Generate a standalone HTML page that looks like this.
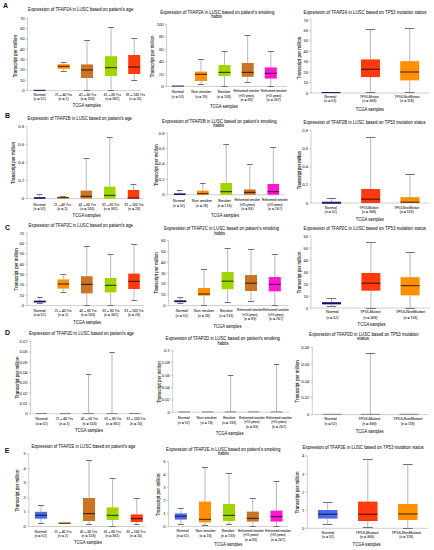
<!DOCTYPE html>
<html><head><meta charset="utf-8"><style>
html,body{margin:0;padding:0;background:#fff;}
svg{display:block;font-family:"Liberation Sans", sans-serif;}
</style></head><body>
<svg width="434" height="550" viewBox="0 0 434 550" xmlns="http://www.w3.org/2000/svg">
<rect width="434" height="550" fill="#fff"/>
<text x="3.0" y="8.1" font-size="7" text-anchor="start" fill="#111" font-weight="bold">A</text>
<text x="5.1" y="117.9" font-size="7" text-anchor="start" fill="#111" font-weight="bold">B</text>
<text x="4.9" y="230" font-size="7" text-anchor="start" fill="#111" font-weight="bold">C</text>
<text x="4.9" y="335.4" font-size="7" text-anchor="start" fill="#111" font-weight="bold">D</text>
<text x="4.7" y="452.7" font-size="7" text-anchor="start" fill="#111" font-weight="bold">E</text>
<text x="28" y="11.4" font-size="4.6" text-anchor="start" fill="#222" font-weight="normal" textLength="105.3" lengthAdjust="spacingAndGlyphs" stroke="#222" stroke-width="0.05">Expression of TFAP2A in LUSC based on patient's age</text>
<line x1="27.5" y1="18.0" x2="27.5" y2="90.6" stroke="#c8c8c8" stroke-width="0.9"/>
<line x1="27.5" y1="90.6" x2="141" y2="90.6" stroke="#c8c8c8" stroke-width="0.9"/>
<line x1="25.9" y1="90.6" x2="27.5" y2="90.6" stroke="#999" stroke-width="0.6"/>
<text x="24.6" y="92.1" font-size="4.2" text-anchor="end" fill="#4a4a4a" font-weight="normal" stroke="#4a4a4a" stroke-width="0.07">0</text>
<line x1="25.9" y1="80.27142857142857" x2="27.5" y2="80.27142857142857" stroke="#999" stroke-width="0.6"/>
<text x="24.6" y="81.77142857142857" font-size="4.2" text-anchor="end" fill="#4a4a4a" font-weight="normal" stroke="#4a4a4a" stroke-width="0.07">10</text>
<line x1="25.9" y1="69.94285714285714" x2="27.5" y2="69.94285714285714" stroke="#999" stroke-width="0.6"/>
<text x="24.6" y="71.44285714285714" font-size="4.2" text-anchor="end" fill="#4a4a4a" font-weight="normal" stroke="#4a4a4a" stroke-width="0.07">20</text>
<line x1="25.9" y1="59.614285714285714" x2="27.5" y2="59.614285714285714" stroke="#999" stroke-width="0.6"/>
<text x="24.6" y="61.114285714285714" font-size="4.2" text-anchor="end" fill="#4a4a4a" font-weight="normal" stroke="#4a4a4a" stroke-width="0.07">30</text>
<line x1="25.9" y1="49.285714285714285" x2="27.5" y2="49.285714285714285" stroke="#999" stroke-width="0.6"/>
<text x="24.6" y="50.785714285714285" font-size="4.2" text-anchor="end" fill="#4a4a4a" font-weight="normal" stroke="#4a4a4a" stroke-width="0.07">40</text>
<line x1="25.9" y1="38.95714285714285" x2="27.5" y2="38.95714285714285" stroke="#999" stroke-width="0.6"/>
<text x="24.6" y="40.45714285714285" font-size="4.2" text-anchor="end" fill="#4a4a4a" font-weight="normal" stroke="#4a4a4a" stroke-width="0.07">50</text>
<line x1="25.9" y1="28.628571428571426" x2="27.5" y2="28.628571428571426" stroke="#999" stroke-width="0.6"/>
<text x="24.6" y="30.128571428571426" font-size="4.2" text-anchor="end" fill="#4a4a4a" font-weight="normal" stroke="#4a4a4a" stroke-width="0.07">60</text>
<line x1="25.9" y1="18.299999999999997" x2="27.5" y2="18.299999999999997" stroke="#999" stroke-width="0.6"/>
<text x="24.6" y="19.799999999999997" font-size="4.2" text-anchor="end" fill="#4a4a4a" font-weight="normal" stroke="#4a4a4a" stroke-width="0.07">70</text>
<text x="0" y="0" font-size="4.6" text-anchor="middle" fill="#222" stroke="#222" stroke-width="0.12" transform="translate(17.2,56.2) rotate(-90)" textLength="42.3" lengthAdjust="spacingAndGlyphs">Transcript per million</text>
<text x="33.46" y="96.24999999999999" font-size="4.125" text-anchor="start" fill="#2e2e2e" font-weight="normal" textLength="12.08" lengthAdjust="spacingAndGlyphs" stroke="#2e2e2e" stroke-width="0.08">Normal</text>
<text x="33.42" y="100.24999999999999" font-size="3.8500000000000005" text-anchor="start" fill="#2e2e2e" font-weight="normal" textLength="12.16" lengthAdjust="spacingAndGlyphs" stroke="#2e2e2e" stroke-width="0.08">(n = 52)</text>
<text x="54.965" y="96.24999999999999" font-size="3.6850000000000005" text-anchor="start" fill="#2e2e2e" font-weight="normal" textLength="17.07" lengthAdjust="spacingAndGlyphs" stroke="#2e2e2e" stroke-width="0.08">21 – 40 Yrs</text>
<text x="58.394999999999996" y="100.24999999999999" font-size="3.8500000000000005" text-anchor="start" fill="#2e2e2e" font-weight="normal" textLength="10.21" lengthAdjust="spacingAndGlyphs" stroke="#2e2e2e" stroke-width="0.08">(n = 2)</text>
<text x="79.065" y="96.24999999999999" font-size="3.6850000000000005" text-anchor="start" fill="#2e2e2e" font-weight="normal" textLength="17.07" lengthAdjust="spacingAndGlyphs" stroke="#2e2e2e" stroke-width="0.08">41 – 60 Yrs</text>
<text x="80.54499999999999" y="100.24999999999999" font-size="3.8500000000000005" text-anchor="start" fill="#2e2e2e" font-weight="normal" textLength="14.11" lengthAdjust="spacingAndGlyphs" stroke="#2e2e2e" stroke-width="0.08">(n = 103)</text>
<text x="103.765" y="96.24999999999999" font-size="3.6850000000000005" text-anchor="start" fill="#2e2e2e" font-weight="normal" textLength="17.07" lengthAdjust="spacingAndGlyphs" stroke="#2e2e2e" stroke-width="0.08">61 – 80 Yrs</text>
<text x="105.245" y="100.24999999999999" font-size="3.8500000000000005" text-anchor="start" fill="#2e2e2e" font-weight="normal" textLength="14.11" lengthAdjust="spacingAndGlyphs" stroke="#2e2e2e" stroke-width="0.08">(n = 361)</text>
<text x="125.935" y="96.24999999999999" font-size="3.6850000000000005" text-anchor="start" fill="#2e2e2e" font-weight="normal" textLength="18.93" lengthAdjust="spacingAndGlyphs" stroke="#2e2e2e" stroke-width="0.08">81 – 100 Yrs</text>
<text x="129.32" y="100.24999999999999" font-size="3.8500000000000005" text-anchor="start" fill="#2e2e2e" font-weight="normal" textLength="12.16" lengthAdjust="spacingAndGlyphs" stroke="#2e2e2e" stroke-width="0.08">(n = 20)</text>
<text x="72.8" y="107.10000000000001" font-size="4.6" text-anchor="start" fill="#222" font-weight="normal" textLength="28" lengthAdjust="spacingAndGlyphs" stroke="#222" stroke-width="0.05">TCGA samples</text>
<rect x="33.60" y="89.80" width="12.00" height="1.10" fill="#1c2070"/>
<line x1="63.7" y1="62" x2="63.7" y2="64.2" stroke="#b8b8b8" stroke-width="1.0"/>
<line x1="60.7" y1="62.5" x2="66.7" y2="62.5" stroke="#6a6a6a" stroke-width="0.95"/>
<line x1="63.7" y1="68.9" x2="63.7" y2="71.4" stroke="#b8b8b8" stroke-width="1.0"/>
<line x1="60.7" y1="71.5" x2="66.7" y2="71.5" stroke="#6a6a6a" stroke-width="0.95"/>
<rect x="57.70" y="64.20" width="12.00" height="4.70" fill="#ff9005"/>
<line x1="57.7" y1="66.4" x2="69.7" y2="66.4" stroke="rgba(0,0,0,0.66)" stroke-width="1.2"/>
<line x1="87" y1="40.4" x2="87" y2="64.4" stroke="#b8b8b8" stroke-width="1.0"/>
<line x1="84.0" y1="40.5" x2="90.0" y2="40.5" stroke="#6a6a6a" stroke-width="0.95"/>
<line x1="87" y1="78" x2="87" y2="90.6" stroke="#b8b8b8" stroke-width="1.0"/>
<line x1="84.0" y1="90.5" x2="90.0" y2="90.5" stroke="#6a6a6a" stroke-width="0.95"/>
<rect x="81.00" y="64.40" width="12.00" height="13.60" fill="#cc7426"/>
<line x1="81.0" y1="70" x2="93.0" y2="70" stroke="rgba(0,0,0,0.66)" stroke-width="1.2"/>
<line x1="111" y1="27.3" x2="111" y2="56.2" stroke="#b8b8b8" stroke-width="1.0"/>
<line x1="108.0" y1="27.5" x2="114.0" y2="27.5" stroke="#6a6a6a" stroke-width="0.95"/>
<line x1="111" y1="76" x2="111" y2="90.6" stroke="#b8b8b8" stroke-width="1.0"/>
<line x1="108.0" y1="90.5" x2="114.0" y2="90.5" stroke="#6a6a6a" stroke-width="0.95"/>
<rect x="105.00" y="56.20" width="12.00" height="19.80" fill="#a0d500"/>
<line x1="105.0" y1="67.6" x2="117.0" y2="67.6" stroke="rgba(0,0,0,0.66)" stroke-width="1.2"/>
<line x1="134.2" y1="38" x2="134.2" y2="55" stroke="#b8b8b8" stroke-width="1.0"/>
<line x1="131.2" y1="38.5" x2="137.2" y2="38.5" stroke="#6a6a6a" stroke-width="0.95"/>
<line x1="134.2" y1="74" x2="134.2" y2="80.4" stroke="#b8b8b8" stroke-width="1.0"/>
<line x1="131.2" y1="80.5" x2="137.2" y2="80.5" stroke="#6a6a6a" stroke-width="0.95"/>
<rect x="128.20" y="55.00" width="12.00" height="19.00" fill="#ff3a0e"/>
<line x1="128.2" y1="67" x2="140.2" y2="67" stroke="rgba(0,0,0,0.66)" stroke-width="1.2"/>
<text x="160.2" y="13.7" font-size="4.6" text-anchor="start" fill="#222" font-weight="normal" textLength="114.2" lengthAdjust="spacingAndGlyphs" stroke="#222" stroke-width="0.05">Expression of TFAP2A in LUSC based on patient's smoking</text>
<text x="211.2" y="18.4" font-size="4.6" text-anchor="start" fill="#222" font-weight="normal" textLength="10.8" lengthAdjust="spacingAndGlyphs" stroke="#222" stroke-width="0.05">habits</text>
<line x1="166.6" y1="24.3" x2="166.6" y2="86.4" stroke="#c8c8c8" stroke-width="0.9"/>
<line x1="166.6" y1="86.4" x2="287" y2="86.4" stroke="#c8c8c8" stroke-width="0.9"/>
<line x1="165.0" y1="86.4" x2="166.6" y2="86.4" stroke="#999" stroke-width="0.6"/>
<text x="163.7" y="87.9" font-size="4.2" text-anchor="end" fill="#4a4a4a" font-weight="normal" stroke="#4a4a4a" stroke-width="0.07">0</text>
<line x1="165.0" y1="74.04" x2="166.6" y2="74.04" stroke="#999" stroke-width="0.6"/>
<text x="163.7" y="75.54" font-size="4.2" text-anchor="end" fill="#4a4a4a" font-weight="normal" stroke="#4a4a4a" stroke-width="0.07">20</text>
<line x1="165.0" y1="61.68000000000001" x2="166.6" y2="61.68000000000001" stroke="#999" stroke-width="0.6"/>
<text x="163.7" y="63.18000000000001" font-size="4.2" text-anchor="end" fill="#4a4a4a" font-weight="normal" stroke="#4a4a4a" stroke-width="0.07">40</text>
<line x1="165.0" y1="49.32000000000001" x2="166.6" y2="49.32000000000001" stroke="#999" stroke-width="0.6"/>
<text x="163.7" y="50.82000000000001" font-size="4.2" text-anchor="end" fill="#4a4a4a" font-weight="normal" stroke="#4a4a4a" stroke-width="0.07">60</text>
<line x1="165.0" y1="36.96" x2="166.6" y2="36.96" stroke="#999" stroke-width="0.6"/>
<text x="163.7" y="38.46" font-size="4.2" text-anchor="end" fill="#4a4a4a" font-weight="normal" stroke="#4a4a4a" stroke-width="0.07">80</text>
<line x1="165.0" y1="24.60000000000001" x2="166.6" y2="24.60000000000001" stroke="#999" stroke-width="0.6"/>
<text x="163.7" y="26.10000000000001" font-size="4.2" text-anchor="end" fill="#4a4a4a" font-weight="normal" stroke="#4a4a4a" stroke-width="0.07">100</text>
<text x="0" y="0" font-size="4.6" text-anchor="middle" fill="#222" stroke="#222" stroke-width="0.12" transform="translate(154.4,56.3) rotate(-90)" textLength="41.7" lengthAdjust="spacingAndGlyphs">Transcript per million</text>
<text x="171.66" y="92.74999999999999" font-size="4.125" text-anchor="start" fill="#2e2e2e" font-weight="normal" textLength="12.08" lengthAdjust="spacingAndGlyphs" stroke="#2e2e2e" stroke-width="0.08">Normal</text>
<text x="171.61999999999998" y="97.64999999999999" font-size="3.8500000000000005" text-anchor="start" fill="#2e2e2e" font-weight="normal" textLength="12.16" lengthAdjust="spacingAndGlyphs" stroke="#2e2e2e" stroke-width="0.08">(n = 52)</text>
<text x="191.19500000000002" y="92.74999999999999" font-size="4.125" text-anchor="start" fill="#2e2e2e" font-weight="normal" textLength="20.21" lengthAdjust="spacingAndGlyphs" stroke="#2e2e2e" stroke-width="0.08">Non smoker</text>
<text x="195.22" y="97.64999999999999" font-size="3.8500000000000005" text-anchor="start" fill="#2e2e2e" font-weight="normal" textLength="12.16" lengthAdjust="spacingAndGlyphs" stroke="#2e2e2e" stroke-width="0.08">(n = 18)</text>
<text x="217.44" y="92.74999999999999" font-size="4.125" text-anchor="start" fill="#2e2e2e" font-weight="normal" textLength="12.92" lengthAdjust="spacingAndGlyphs" stroke="#2e2e2e" stroke-width="0.08">Smoker</text>
<text x="216.845" y="97.64999999999999" font-size="3.8500000000000005" text-anchor="start" fill="#2e2e2e" font-weight="normal" textLength="14.11" lengthAdjust="spacingAndGlyphs" stroke="#2e2e2e" stroke-width="0.08">(n = 133)</text>
<text x="233.585" y="92.35" font-size="3.575" text-anchor="start" fill="#2e2e2e" font-weight="normal" textLength="25.83" lengthAdjust="spacingAndGlyphs" stroke="#2e2e2e" stroke-width="0.08">Reformed smoker</text>
<text x="238.87" y="96.64999999999999" font-size="3.3000000000000003" text-anchor="start" fill="#2e2e2e" font-weight="normal" textLength="15.26" lengthAdjust="spacingAndGlyphs" stroke="#2e2e2e" stroke-width="0.08">(&lt;15 years)</text>
<text x="240.42" y="101.14999999999999" font-size="3.8500000000000005" text-anchor="start" fill="#2e2e2e" font-weight="normal" textLength="12.16" lengthAdjust="spacingAndGlyphs" stroke="#2e2e2e" stroke-width="0.08">(n = 83)</text>
<text x="260.78499999999997" y="92.35" font-size="3.575" text-anchor="start" fill="#2e2e2e" font-weight="normal" textLength="25.83" lengthAdjust="spacingAndGlyphs" stroke="#2e2e2e" stroke-width="0.08">Reformed smoker</text>
<text x="266.07" y="96.64999999999999" font-size="3.3000000000000003" text-anchor="start" fill="#2e2e2e" font-weight="normal" textLength="15.26" lengthAdjust="spacingAndGlyphs" stroke="#2e2e2e" stroke-width="0.08">(&gt;15 years)</text>
<text x="266.645" y="101.14999999999999" font-size="3.8500000000000005" text-anchor="start" fill="#2e2e2e" font-weight="normal" textLength="14.11" lengthAdjust="spacingAndGlyphs" stroke="#2e2e2e" stroke-width="0.08">(n = 267)</text>
<text x="209.9" y="108.10000000000001" font-size="4.6" text-anchor="start" fill="#222" font-weight="normal" textLength="28" lengthAdjust="spacingAndGlyphs" stroke="#222" stroke-width="0.05">TCGA samples</text>
<rect x="172.00" y="85.60" width="12.00" height="1.00" fill="#1c2070"/>
<line x1="201" y1="59.4" x2="201" y2="71.6" stroke="#b8b8b8" stroke-width="1.0"/>
<line x1="198.0" y1="59.5" x2="204.0" y2="59.5" stroke="#6a6a6a" stroke-width="0.95"/>
<line x1="201" y1="81" x2="201" y2="84.4" stroke="#b8b8b8" stroke-width="1.0"/>
<line x1="198.0" y1="84.5" x2="204.0" y2="84.5" stroke="#6a6a6a" stroke-width="0.95"/>
<rect x="195.00" y="71.60" width="12.00" height="9.40" fill="#ff9005"/>
<line x1="195.0" y1="74.4" x2="207.0" y2="74.4" stroke="rgba(0,0,0,0.66)" stroke-width="1.2"/>
<line x1="224.5" y1="51.6" x2="224.5" y2="65" stroke="#b8b8b8" stroke-width="1.0"/>
<line x1="221.5" y1="51.5" x2="227.5" y2="51.5" stroke="#6a6a6a" stroke-width="0.95"/>
<line x1="224.5" y1="76" x2="224.5" y2="86" stroke="#b8b8b8" stroke-width="1.0"/>
<line x1="221.5" y1="86.5" x2="227.5" y2="86.5" stroke="#6a6a6a" stroke-width="0.95"/>
<rect x="218.50" y="65.00" width="12.00" height="11.00" fill="#a0d500"/>
<line x1="218.5" y1="72.4" x2="230.5" y2="72.4" stroke="rgba(0,0,0,0.66)" stroke-width="1.2"/>
<line x1="247.7" y1="35" x2="247.7" y2="63" stroke="#b8b8b8" stroke-width="1.0"/>
<line x1="244.7" y1="35.5" x2="250.7" y2="35.5" stroke="#6a6a6a" stroke-width="0.95"/>
<line x1="247.7" y1="76.8" x2="247.7" y2="82" stroke="#b8b8b8" stroke-width="1.0"/>
<line x1="244.7" y1="82.5" x2="250.7" y2="82.5" stroke="#6a6a6a" stroke-width="0.95"/>
<rect x="241.70" y="63.00" width="12.00" height="13.80" fill="#cc7426"/>
<line x1="241.7" y1="72.4" x2="253.7" y2="72.4" stroke="rgba(0,0,0,0.66)" stroke-width="1.2"/>
<line x1="270.8" y1="51.4" x2="270.8" y2="67.4" stroke="#b8b8b8" stroke-width="1.0"/>
<line x1="267.8" y1="51.5" x2="273.8" y2="51.5" stroke="#6a6a6a" stroke-width="0.95"/>
<line x1="270.8" y1="78.6" x2="270.8" y2="86" stroke="#b8b8b8" stroke-width="1.0"/>
<line x1="267.8" y1="86.5" x2="273.8" y2="86.5" stroke="#6a6a6a" stroke-width="0.95"/>
<rect x="264.80" y="67.40" width="12.00" height="11.20" fill="#ff16d0"/>
<line x1="264.8" y1="73.4" x2="276.8" y2="73.4" stroke="rgba(0,0,0,0.66)" stroke-width="1.2"/>
<text x="303.5" y="14.2" font-size="4.6" text-anchor="start" fill="#222" font-weight="normal" textLength="122.9" lengthAdjust="spacingAndGlyphs" stroke="#222" stroke-width="0.05">Expression of TFAP2A in LUSC based on TP53 mutation status</text>
<line x1="311" y1="19.7" x2="311" y2="93" stroke="#c8c8c8" stroke-width="0.9"/>
<line x1="311" y1="93" x2="429" y2="93" stroke="#c8c8c8" stroke-width="0.9"/>
<line x1="309.4" y1="93.0" x2="311" y2="93.0" stroke="#999" stroke-width="0.6"/>
<text x="308.1" y="94.5" font-size="4.2" text-anchor="end" fill="#4a4a4a" font-weight="normal" stroke="#4a4a4a" stroke-width="0.07">0</text>
<line x1="309.4" y1="82.57142857142857" x2="311" y2="82.57142857142857" stroke="#999" stroke-width="0.6"/>
<text x="308.1" y="84.07142857142857" font-size="4.2" text-anchor="end" fill="#4a4a4a" font-weight="normal" stroke="#4a4a4a" stroke-width="0.07">10</text>
<line x1="309.4" y1="72.14285714285714" x2="311" y2="72.14285714285714" stroke="#999" stroke-width="0.6"/>
<text x="308.1" y="73.64285714285714" font-size="4.2" text-anchor="end" fill="#4a4a4a" font-weight="normal" stroke="#4a4a4a" stroke-width="0.07">20</text>
<line x1="309.4" y1="61.714285714285715" x2="311" y2="61.714285714285715" stroke="#999" stroke-width="0.6"/>
<text x="308.1" y="63.214285714285715" font-size="4.2" text-anchor="end" fill="#4a4a4a" font-weight="normal" stroke="#4a4a4a" stroke-width="0.07">30</text>
<line x1="309.4" y1="51.285714285714285" x2="311" y2="51.285714285714285" stroke="#999" stroke-width="0.6"/>
<text x="308.1" y="52.785714285714285" font-size="4.2" text-anchor="end" fill="#4a4a4a" font-weight="normal" stroke="#4a4a4a" stroke-width="0.07">40</text>
<line x1="309.4" y1="40.857142857142854" x2="311" y2="40.857142857142854" stroke="#999" stroke-width="0.6"/>
<text x="308.1" y="42.357142857142854" font-size="4.2" text-anchor="end" fill="#4a4a4a" font-weight="normal" stroke="#4a4a4a" stroke-width="0.07">50</text>
<line x1="309.4" y1="30.42857142857143" x2="311" y2="30.42857142857143" stroke="#999" stroke-width="0.6"/>
<text x="308.1" y="31.92857142857143" font-size="4.2" text-anchor="end" fill="#4a4a4a" font-weight="normal" stroke="#4a4a4a" stroke-width="0.07">60</text>
<line x1="309.4" y1="20.0" x2="311" y2="20.0" stroke="#999" stroke-width="0.6"/>
<text x="308.1" y="21.5" font-size="4.2" text-anchor="end" fill="#4a4a4a" font-weight="normal" stroke="#4a4a4a" stroke-width="0.07">70</text>
<text x="0" y="0" font-size="4.6" text-anchor="middle" fill="#222" stroke="#222" stroke-width="0.12" transform="translate(300.90000000000003,57.9) rotate(-90)" textLength="42.5" lengthAdjust="spacingAndGlyphs">Transcript per million</text>
<text x="324.15999999999997" y="98.24999999999999" font-size="4.125" text-anchor="start" fill="#2e2e2e" font-weight="normal" textLength="12.08" lengthAdjust="spacingAndGlyphs" stroke="#2e2e2e" stroke-width="0.08">Normal</text>
<text x="324.12" y="102.44999999999999" font-size="3.8500000000000005" text-anchor="start" fill="#2e2e2e" font-weight="normal" textLength="12.16" lengthAdjust="spacingAndGlyphs" stroke="#2e2e2e" stroke-width="0.08">(n = 52)</text>
<text x="359.765" y="98.24999999999999" font-size="3.63" text-anchor="start" fill="#2e2e2e" font-weight="normal" textLength="19.07" lengthAdjust="spacingAndGlyphs" stroke="#2e2e2e" stroke-width="0.08">TP53-Mutant</text>
<text x="362.245" y="102.44999999999999" font-size="3.8500000000000005" text-anchor="start" fill="#2e2e2e" font-weight="normal" textLength="14.11" lengthAdjust="spacingAndGlyphs" stroke="#2e2e2e" stroke-width="0.08">(n = 369)</text>
<text x="394.435" y="98.24999999999999" font-size="3.63" text-anchor="start" fill="#2e2e2e" font-weight="normal" textLength="25.13" lengthAdjust="spacingAndGlyphs" stroke="#2e2e2e" stroke-width="0.08">TP53-NonMutant</text>
<text x="400.075" y="102.44999999999999" font-size="3.8500000000000005" text-anchor="start" fill="#2e2e2e" font-weight="normal" textLength="13.85" lengthAdjust="spacingAndGlyphs" stroke="#2e2e2e" stroke-width="0.08">(n = 118)</text>
<text x="355.8" y="110.8" font-size="4.6" text-anchor="start" fill="#222" font-weight="normal" textLength="28" lengthAdjust="spacingAndGlyphs" stroke="#222" stroke-width="0.05">TCGA samples</text>
<rect x="321.50" y="92.00" width="19.00" height="1.10" fill="#1c2070"/>
<line x1="370.5" y1="29.6" x2="370.5" y2="59.4" stroke="#b8b8b8" stroke-width="1.0"/>
<line x1="365.75" y1="29.5" x2="375.25" y2="29.5" stroke="#6a6a6a" stroke-width="0.95"/>
<line x1="370.5" y1="77.1" x2="370.5" y2="92.6" stroke="#b8b8b8" stroke-width="1.0"/>
<line x1="365.75" y1="92.5" x2="375.25" y2="92.5" stroke="#6a6a6a" stroke-width="0.95"/>
<rect x="361.00" y="59.40" width="19.00" height="17.70" fill="#ff3a0e"/>
<line x1="361.0" y1="69.3" x2="380.0" y2="69.3" stroke="rgba(0,0,0,0.66)" stroke-width="1.2"/>
<line x1="409.7" y1="28" x2="409.7" y2="61.2" stroke="#b8b8b8" stroke-width="1.0"/>
<line x1="404.95" y1="28.5" x2="414.45" y2="28.5" stroke="#6a6a6a" stroke-width="0.95"/>
<line x1="409.7" y1="80.4" x2="409.7" y2="92.4" stroke="#b8b8b8" stroke-width="1.0"/>
<line x1="404.95" y1="92.5" x2="414.45" y2="92.5" stroke="#6a6a6a" stroke-width="0.95"/>
<rect x="400.20" y="61.20" width="19.00" height="19.20" fill="#ff9005"/>
<line x1="400.2" y1="72" x2="419.2" y2="72" stroke="rgba(0,0,0,0.66)" stroke-width="1.2"/>
<text x="27.5" y="119.6" font-size="4.6" text-anchor="start" fill="#222" font-weight="normal" textLength="104.5" lengthAdjust="spacingAndGlyphs" stroke="#222" stroke-width="0.05">Expression of TFAP2B in LUSC based on patient's age</text>
<line x1="27" y1="126.3" x2="27" y2="198.6" stroke="#c8c8c8" stroke-width="0.9"/>
<line x1="27" y1="198.6" x2="143" y2="198.6" stroke="#c8c8c8" stroke-width="0.9"/>
<line x1="25.4" y1="198.6" x2="27" y2="198.6" stroke="#999" stroke-width="0.6"/>
<text x="24.1" y="200.1" font-size="4.2" text-anchor="end" fill="#4a4a4a" font-weight="normal" stroke="#4a4a4a" stroke-width="0.07">0</text>
<line x1="25.4" y1="180.6" x2="27" y2="180.6" stroke="#999" stroke-width="0.6"/>
<text x="24.1" y="182.1" font-size="4.2" text-anchor="end" fill="#4a4a4a" font-weight="normal" stroke="#4a4a4a" stroke-width="0.07">0.2</text>
<line x1="25.4" y1="162.6" x2="27" y2="162.6" stroke="#999" stroke-width="0.6"/>
<text x="24.1" y="164.1" font-size="4.2" text-anchor="end" fill="#4a4a4a" font-weight="normal" stroke="#4a4a4a" stroke-width="0.07">0.4</text>
<line x1="25.4" y1="144.6" x2="27" y2="144.6" stroke="#999" stroke-width="0.6"/>
<text x="24.1" y="146.1" font-size="4.2" text-anchor="end" fill="#4a4a4a" font-weight="normal" stroke="#4a4a4a" stroke-width="0.07">0.6</text>
<line x1="25.4" y1="126.6" x2="27" y2="126.6" stroke="#999" stroke-width="0.6"/>
<text x="24.1" y="128.1" font-size="4.2" text-anchor="end" fill="#4a4a4a" font-weight="normal" stroke="#4a4a4a" stroke-width="0.07">0.8</text>
<text x="0" y="0" font-size="4.6" text-anchor="middle" fill="#222" stroke="#222" stroke-width="0.12" transform="translate(15.1,163) rotate(-90)" textLength="42" lengthAdjust="spacingAndGlyphs">Transcript per million</text>
<text x="33.36" y="205.55" font-size="4.125" text-anchor="start" fill="#2e2e2e" font-weight="normal" textLength="12.08" lengthAdjust="spacingAndGlyphs" stroke="#2e2e2e" stroke-width="0.08">Normal</text>
<text x="33.32" y="209.65" font-size="3.8500000000000005" text-anchor="start" fill="#2e2e2e" font-weight="normal" textLength="12.16" lengthAdjust="spacingAndGlyphs" stroke="#2e2e2e" stroke-width="0.08">(n = 52)</text>
<text x="53.765" y="205.55" font-size="3.6850000000000005" text-anchor="start" fill="#2e2e2e" font-weight="normal" textLength="17.07" lengthAdjust="spacingAndGlyphs" stroke="#2e2e2e" stroke-width="0.08">21 – 40 Yrs</text>
<text x="57.19499999999999" y="209.65" font-size="3.8500000000000005" text-anchor="start" fill="#2e2e2e" font-weight="normal" textLength="10.21" lengthAdjust="spacingAndGlyphs" stroke="#2e2e2e" stroke-width="0.08">(n = 2)</text>
<text x="78.765" y="205.55" font-size="3.6850000000000005" text-anchor="start" fill="#2e2e2e" font-weight="normal" textLength="17.07" lengthAdjust="spacingAndGlyphs" stroke="#2e2e2e" stroke-width="0.08">41 – 60 Yrs</text>
<text x="80.245" y="209.65" font-size="3.8500000000000005" text-anchor="start" fill="#2e2e2e" font-weight="normal" textLength="14.11" lengthAdjust="spacingAndGlyphs" stroke="#2e2e2e" stroke-width="0.08">(n = 103)</text>
<text x="102.165" y="205.55" font-size="3.6850000000000005" text-anchor="start" fill="#2e2e2e" font-weight="normal" textLength="17.07" lengthAdjust="spacingAndGlyphs" stroke="#2e2e2e" stroke-width="0.08">61 – 80 Yrs</text>
<text x="103.64500000000001" y="209.65" font-size="3.8500000000000005" text-anchor="start" fill="#2e2e2e" font-weight="normal" textLength="14.11" lengthAdjust="spacingAndGlyphs" stroke="#2e2e2e" stroke-width="0.08">(n = 361)</text>
<text x="124.535" y="205.55" font-size="3.6850000000000005" text-anchor="start" fill="#2e2e2e" font-weight="normal" textLength="18.93" lengthAdjust="spacingAndGlyphs" stroke="#2e2e2e" stroke-width="0.08">81 – 100 Yrs</text>
<text x="127.92" y="209.65" font-size="3.8500000000000005" text-anchor="start" fill="#2e2e2e" font-weight="normal" textLength="12.16" lengthAdjust="spacingAndGlyphs" stroke="#2e2e2e" stroke-width="0.08">(n = 20)</text>
<text x="72.6" y="216.6" font-size="4.6" text-anchor="start" fill="#222" font-weight="normal" textLength="28" lengthAdjust="spacingAndGlyphs" stroke="#222" stroke-width="0.05">TCGA samples</text>
<line x1="39.7" y1="194" x2="39.7" y2="197.2" stroke="#b8b8b8" stroke-width="1.0"/>
<line x1="36.825" y1="194.5" x2="42.575" y2="194.5" stroke="#6a6a6a" stroke-width="0.95"/>
<rect x="33.95" y="197.20" width="11.50" height="1.40" fill="#1e30b8"/>
<line x1="33.95" y1="198.2" x2="45.45" y2="198.2" stroke="rgba(0,0,0,0.66)" stroke-width="1.2"/>
<line x1="63" y1="196.4" x2="63" y2="196.8" stroke="#b8b8b8" stroke-width="1.0"/>
<line x1="60.125" y1="196.5" x2="65.875" y2="196.5" stroke="#6a6a6a" stroke-width="0.95"/>
<rect x="57.25" y="196.80" width="11.50" height="1.80" fill="#ff9005"/>
<line x1="57.25" y1="197.6" x2="68.75" y2="197.6" stroke="rgba(0,0,0,0.66)" stroke-width="1.2"/>
<line x1="86.3" y1="158.6" x2="86.3" y2="190.6" stroke="#b8b8b8" stroke-width="1.0"/>
<line x1="83.425" y1="158.5" x2="89.175" y2="158.5" stroke="#6a6a6a" stroke-width="0.95"/>
<rect x="80.55" y="190.60" width="11.50" height="8.00" fill="#cc7426"/>
<line x1="80.55" y1="196.4" x2="92.05" y2="196.4" stroke="rgba(0,0,0,0.66)" stroke-width="1.2"/>
<line x1="109.8" y1="137.6" x2="109.8" y2="186.6" stroke="#b8b8b8" stroke-width="1.0"/>
<line x1="106.925" y1="137.5" x2="112.675" y2="137.5" stroke="#6a6a6a" stroke-width="0.95"/>
<rect x="104.05" y="186.60" width="11.50" height="12.00" fill="#a0d500"/>
<line x1="104.05" y1="195.4" x2="115.55" y2="195.4" stroke="rgba(0,0,0,0.66)" stroke-width="1.2"/>
<line x1="133.5" y1="184.4" x2="133.5" y2="190" stroke="#b8b8b8" stroke-width="1.0"/>
<line x1="130.625" y1="184.5" x2="136.375" y2="184.5" stroke="#6a6a6a" stroke-width="0.95"/>
<rect x="127.75" y="190.00" width="11.50" height="8.60" fill="#ff3a0e"/>
<line x1="127.75" y1="198" x2="139.25" y2="198" stroke="rgba(0,0,0,0.66)" stroke-width="1.2"/>
<text x="162.1" y="122.6" font-size="4.6" text-anchor="start" fill="#222" font-weight="normal" textLength="114.5" lengthAdjust="spacingAndGlyphs" stroke="#222" stroke-width="0.05">Expression of TFAP2B in LUSC based on patient's smoking</text>
<text x="213.2" y="127.3" font-size="4.6" text-anchor="start" fill="#222" font-weight="normal" textLength="10.8" lengthAdjust="spacingAndGlyphs" stroke="#222" stroke-width="0.05">habits</text>
<line x1="167.4" y1="132.7" x2="167.4" y2="194.8" stroke="#c8c8c8" stroke-width="0.9"/>
<line x1="167.4" y1="194.8" x2="285" y2="194.8" stroke="#c8c8c8" stroke-width="0.9"/>
<line x1="165.8" y1="194.8" x2="167.4" y2="194.8" stroke="#999" stroke-width="0.6"/>
<text x="164.5" y="196.3" font-size="4.2" text-anchor="end" fill="#4a4a4a" font-weight="normal" stroke="#4a4a4a" stroke-width="0.07">0</text>
<line x1="165.8" y1="179.35000000000002" x2="167.4" y2="179.35000000000002" stroke="#999" stroke-width="0.6"/>
<text x="164.5" y="180.85000000000002" font-size="4.2" text-anchor="end" fill="#4a4a4a" font-weight="normal" stroke="#4a4a4a" stroke-width="0.07">0.2</text>
<line x1="165.8" y1="163.9" x2="167.4" y2="163.9" stroke="#999" stroke-width="0.6"/>
<text x="164.5" y="165.4" font-size="4.2" text-anchor="end" fill="#4a4a4a" font-weight="normal" stroke="#4a4a4a" stroke-width="0.07">0.4</text>
<line x1="165.8" y1="148.45" x2="167.4" y2="148.45" stroke="#999" stroke-width="0.6"/>
<text x="164.5" y="149.95" font-size="4.2" text-anchor="end" fill="#4a4a4a" font-weight="normal" stroke="#4a4a4a" stroke-width="0.07">0.6</text>
<line x1="165.8" y1="133.0" x2="167.4" y2="133.0" stroke="#999" stroke-width="0.6"/>
<text x="164.5" y="134.5" font-size="4.2" text-anchor="end" fill="#4a4a4a" font-weight="normal" stroke="#4a4a4a" stroke-width="0.07">0.8</text>
<text x="0" y="0" font-size="4.6" text-anchor="middle" fill="#222" stroke="#222" stroke-width="0.12" transform="translate(157.6,165.2) rotate(-90)" textLength="41.7" lengthAdjust="spacingAndGlyphs">Transcript per million</text>
<text x="172.86" y="201.75" font-size="4.125" text-anchor="start" fill="#2e2e2e" font-weight="normal" textLength="12.08" lengthAdjust="spacingAndGlyphs" stroke="#2e2e2e" stroke-width="0.08">Normal</text>
<text x="172.82" y="206.65" font-size="3.8500000000000005" text-anchor="start" fill="#2e2e2e" font-weight="normal" textLength="12.16" lengthAdjust="spacingAndGlyphs" stroke="#2e2e2e" stroke-width="0.08">(n = 52)</text>
<text x="191.79500000000002" y="201.75" font-size="4.125" text-anchor="start" fill="#2e2e2e" font-weight="normal" textLength="20.21" lengthAdjust="spacingAndGlyphs" stroke="#2e2e2e" stroke-width="0.08">Non smoker</text>
<text x="195.82" y="206.65" font-size="3.8500000000000005" text-anchor="start" fill="#2e2e2e" font-weight="normal" textLength="12.16" lengthAdjust="spacingAndGlyphs" stroke="#2e2e2e" stroke-width="0.08">(n = 18)</text>
<text x="218.04" y="201.75" font-size="4.125" text-anchor="start" fill="#2e2e2e" font-weight="normal" textLength="12.92" lengthAdjust="spacingAndGlyphs" stroke="#2e2e2e" stroke-width="0.08">Smoker</text>
<text x="217.445" y="206.65" font-size="3.8500000000000005" text-anchor="start" fill="#2e2e2e" font-weight="normal" textLength="14.11" lengthAdjust="spacingAndGlyphs" stroke="#2e2e2e" stroke-width="0.08">(n = 133)</text>
<text x="234.38500000000002" y="200.95000000000002" font-size="3.575" text-anchor="start" fill="#2e2e2e" font-weight="normal" textLength="25.83" lengthAdjust="spacingAndGlyphs" stroke="#2e2e2e" stroke-width="0.08">Reformed smoker</text>
<text x="239.67000000000002" y="205.65" font-size="3.3000000000000003" text-anchor="start" fill="#2e2e2e" font-weight="normal" textLength="15.26" lengthAdjust="spacingAndGlyphs" stroke="#2e2e2e" stroke-width="0.08">(&lt;15 years)</text>
<text x="241.22" y="210.15" font-size="3.8500000000000005" text-anchor="start" fill="#2e2e2e" font-weight="normal" textLength="12.16" lengthAdjust="spacingAndGlyphs" stroke="#2e2e2e" stroke-width="0.08">(n = 83)</text>
<text x="262.085" y="200.95000000000002" font-size="3.575" text-anchor="start" fill="#2e2e2e" font-weight="normal" textLength="25.83" lengthAdjust="spacingAndGlyphs" stroke="#2e2e2e" stroke-width="0.08">Reformed smoker</text>
<text x="267.37" y="205.65" font-size="3.3000000000000003" text-anchor="start" fill="#2e2e2e" font-weight="normal" textLength="15.26" lengthAdjust="spacingAndGlyphs" stroke="#2e2e2e" stroke-width="0.08">(&gt;15 years)</text>
<text x="267.945" y="210.15" font-size="3.8500000000000005" text-anchor="start" fill="#2e2e2e" font-weight="normal" textLength="14.11" lengthAdjust="spacingAndGlyphs" stroke="#2e2e2e" stroke-width="0.08">(n = 267)</text>
<text x="211" y="216.89999999999998" font-size="4.6" text-anchor="start" fill="#222" font-weight="normal" textLength="28" lengthAdjust="spacingAndGlyphs" stroke="#222" stroke-width="0.05">TCGA samples</text>
<line x1="179.7" y1="190.4" x2="179.7" y2="193.4" stroke="#b8b8b8" stroke-width="1.0"/>
<line x1="176.79999999999998" y1="190.5" x2="182.6" y2="190.5" stroke="#6a6a6a" stroke-width="0.95"/>
<rect x="173.90" y="193.40" width="11.60" height="1.40" fill="#1e30b8"/>
<line x1="173.89999999999998" y1="194.4" x2="185.5" y2="194.4" stroke="rgba(0,0,0,0.66)" stroke-width="1.2"/>
<line x1="202.8" y1="183" x2="202.8" y2="190.6" stroke="#b8b8b8" stroke-width="1.0"/>
<line x1="199.9" y1="183.5" x2="205.70000000000002" y2="183.5" stroke="#6a6a6a" stroke-width="0.95"/>
<rect x="197.00" y="190.60" width="11.60" height="4.20" fill="#ff9005"/>
<line x1="197.0" y1="193.6" x2="208.60000000000002" y2="193.6" stroke="rgba(0,0,0,0.66)" stroke-width="1.2"/>
<line x1="226.2" y1="144" x2="226.2" y2="183" stroke="#b8b8b8" stroke-width="1.0"/>
<line x1="223.29999999999998" y1="144.5" x2="229.1" y2="144.5" stroke="#6a6a6a" stroke-width="0.95"/>
<rect x="220.40" y="183.00" width="11.60" height="11.80" fill="#a0d500"/>
<line x1="220.39999999999998" y1="191.6" x2="232.0" y2="191.6" stroke="rgba(0,0,0,0.66)" stroke-width="1.2"/>
<line x1="249.8" y1="164.6" x2="249.8" y2="189.4" stroke="#b8b8b8" stroke-width="1.0"/>
<line x1="246.9" y1="164.5" x2="252.70000000000002" y2="164.5" stroke="#6a6a6a" stroke-width="0.95"/>
<rect x="244.00" y="189.40" width="11.60" height="5.40" fill="#cc7426"/>
<line x1="244.0" y1="192.4" x2="255.60000000000002" y2="192.4" stroke="rgba(0,0,0,0.66)" stroke-width="1.2"/>
<line x1="273.3" y1="147" x2="273.3" y2="184" stroke="#b8b8b8" stroke-width="1.0"/>
<line x1="270.40000000000003" y1="147.5" x2="276.2" y2="147.5" stroke="#6a6a6a" stroke-width="0.95"/>
<rect x="267.50" y="184.00" width="11.60" height="10.80" fill="#ff16d0"/>
<line x1="267.5" y1="191.6" x2="279.1" y2="191.6" stroke="rgba(0,0,0,0.66)" stroke-width="1.2"/>
<text x="303.5" y="124.2" font-size="4.6" text-anchor="start" fill="#222" font-weight="normal" textLength="122.1" lengthAdjust="spacingAndGlyphs" stroke="#222" stroke-width="0.05">Expression of TFAP2B in LUSC based on TP53 mutation status</text>
<line x1="311" y1="130.29999999999998" x2="311" y2="203" stroke="#c8c8c8" stroke-width="0.9"/>
<line x1="311" y1="203" x2="429" y2="203" stroke="#c8c8c8" stroke-width="0.9"/>
<line x1="309.4" y1="203.0" x2="311" y2="203.0" stroke="#999" stroke-width="0.6"/>
<text x="308.1" y="204.5" font-size="4.2" text-anchor="end" fill="#4a4a4a" font-weight="normal" stroke="#4a4a4a" stroke-width="0.07">0</text>
<line x1="309.4" y1="184.9" x2="311" y2="184.9" stroke="#999" stroke-width="0.6"/>
<text x="308.1" y="186.4" font-size="4.2" text-anchor="end" fill="#4a4a4a" font-weight="normal" stroke="#4a4a4a" stroke-width="0.07">0.2</text>
<line x1="309.4" y1="166.8" x2="311" y2="166.8" stroke="#999" stroke-width="0.6"/>
<text x="308.1" y="168.3" font-size="4.2" text-anchor="end" fill="#4a4a4a" font-weight="normal" stroke="#4a4a4a" stroke-width="0.07">0.4</text>
<line x1="309.4" y1="148.7" x2="311" y2="148.7" stroke="#999" stroke-width="0.6"/>
<text x="308.1" y="150.2" font-size="4.2" text-anchor="end" fill="#4a4a4a" font-weight="normal" stroke="#4a4a4a" stroke-width="0.07">0.6</text>
<line x1="309.4" y1="130.6" x2="311" y2="130.6" stroke="#999" stroke-width="0.6"/>
<text x="308.1" y="132.1" font-size="4.2" text-anchor="end" fill="#4a4a4a" font-weight="normal" stroke="#4a4a4a" stroke-width="0.07">0.8</text>
<text x="0" y="0" font-size="4.6" text-anchor="middle" fill="#222" stroke="#222" stroke-width="0.12" transform="translate(300.90000000000003,170.2) rotate(-90)" textLength="38" lengthAdjust="spacingAndGlyphs">Transcript per million</text>
<text x="324.76" y="208.55" font-size="4.125" text-anchor="start" fill="#2e2e2e" font-weight="normal" textLength="12.08" lengthAdjust="spacingAndGlyphs" stroke="#2e2e2e" stroke-width="0.08">Normal</text>
<text x="324.72" y="213.05" font-size="3.8500000000000005" text-anchor="start" fill="#2e2e2e" font-weight="normal" textLength="12.16" lengthAdjust="spacingAndGlyphs" stroke="#2e2e2e" stroke-width="0.08">(n = 52)</text>
<text x="359.36499999999995" y="208.55" font-size="3.63" text-anchor="start" fill="#2e2e2e" font-weight="normal" textLength="19.07" lengthAdjust="spacingAndGlyphs" stroke="#2e2e2e" stroke-width="0.08">TP53-Mutant</text>
<text x="361.84499999999997" y="213.05" font-size="3.8500000000000005" text-anchor="start" fill="#2e2e2e" font-weight="normal" textLength="14.11" lengthAdjust="spacingAndGlyphs" stroke="#2e2e2e" stroke-width="0.08">(n = 369)</text>
<text x="394.135" y="208.55" font-size="3.63" text-anchor="start" fill="#2e2e2e" font-weight="normal" textLength="25.13" lengthAdjust="spacingAndGlyphs" stroke="#2e2e2e" stroke-width="0.08">TP53-NonMutant</text>
<text x="399.775" y="213.05" font-size="3.8500000000000005" text-anchor="start" fill="#2e2e2e" font-weight="normal" textLength="13.85" lengthAdjust="spacingAndGlyphs" stroke="#2e2e2e" stroke-width="0.08">(n = 118)</text>
<text x="355.8" y="220.7" font-size="4.6" text-anchor="start" fill="#222" font-weight="normal" textLength="28" lengthAdjust="spacingAndGlyphs" stroke="#222" stroke-width="0.05">TCGA samples</text>
<line x1="331.5" y1="198.5" x2="331.5" y2="201.7" stroke="#b8b8b8" stroke-width="1.0"/>
<line x1="326.75" y1="198.5" x2="336.25" y2="198.5" stroke="#6a6a6a" stroke-width="0.95"/>
<rect x="322.00" y="201.70" width="19.00" height="1.80" fill="#1e30b8"/>
<line x1="322.0" y1="203.1" x2="341.0" y2="203.1" stroke="rgba(0,0,0,0.66)" stroke-width="1.2"/>
<line x1="370.7" y1="137.2" x2="370.7" y2="189" stroke="#b8b8b8" stroke-width="1.0"/>
<line x1="365.95" y1="137.5" x2="375.45" y2="137.5" stroke="#6a6a6a" stroke-width="0.95"/>
<rect x="361.20" y="189.00" width="19.00" height="14.00" fill="#ff3a0e"/>
<line x1="361.2" y1="199.2" x2="380.2" y2="199.2" stroke="rgba(0,0,0,0.66)" stroke-width="1.2"/>
<line x1="410" y1="174.4" x2="410" y2="197.2" stroke="#b8b8b8" stroke-width="1.0"/>
<line x1="405.25" y1="174.5" x2="414.75" y2="174.5" stroke="#6a6a6a" stroke-width="0.95"/>
<rect x="400.50" y="197.20" width="19.00" height="5.80" fill="#ff9005"/>
<line x1="400.5" y1="202.2" x2="419.5" y2="202.2" stroke="rgba(0,0,0,0.66)" stroke-width="1.2"/>
<text x="28.4" y="226.7" font-size="4.6" text-anchor="start" fill="#222" font-weight="normal" textLength="104.6" lengthAdjust="spacingAndGlyphs" stroke="#222" stroke-width="0.05">Expression of TFAP2C in LUSC based on patient's age</text>
<line x1="27" y1="232.7" x2="27" y2="305.6" stroke="#c8c8c8" stroke-width="0.9"/>
<line x1="27" y1="305.6" x2="144" y2="305.6" stroke="#c8c8c8" stroke-width="0.9"/>
<line x1="25.4" y1="305.6" x2="27" y2="305.6" stroke="#999" stroke-width="0.6"/>
<text x="24.1" y="307.1" font-size="4.2" text-anchor="end" fill="#4a4a4a" font-weight="normal" stroke="#4a4a4a" stroke-width="0.07">0</text>
<line x1="25.4" y1="295.22857142857146" x2="27" y2="295.22857142857146" stroke="#999" stroke-width="0.6"/>
<text x="24.1" y="296.72857142857146" font-size="4.2" text-anchor="end" fill="#4a4a4a" font-weight="normal" stroke="#4a4a4a" stroke-width="0.07">10</text>
<line x1="25.4" y1="284.8571428571429" x2="27" y2="284.8571428571429" stroke="#999" stroke-width="0.6"/>
<text x="24.1" y="286.3571428571429" font-size="4.2" text-anchor="end" fill="#4a4a4a" font-weight="normal" stroke="#4a4a4a" stroke-width="0.07">20</text>
<line x1="25.4" y1="274.4857142857143" x2="27" y2="274.4857142857143" stroke="#999" stroke-width="0.6"/>
<text x="24.1" y="275.9857142857143" font-size="4.2" text-anchor="end" fill="#4a4a4a" font-weight="normal" stroke="#4a4a4a" stroke-width="0.07">30</text>
<line x1="25.4" y1="264.1142857142857" x2="27" y2="264.1142857142857" stroke="#999" stroke-width="0.6"/>
<text x="24.1" y="265.6142857142857" font-size="4.2" text-anchor="end" fill="#4a4a4a" font-weight="normal" stroke="#4a4a4a" stroke-width="0.07">40</text>
<line x1="25.4" y1="253.74285714285713" x2="27" y2="253.74285714285713" stroke="#999" stroke-width="0.6"/>
<text x="24.1" y="255.24285714285713" font-size="4.2" text-anchor="end" fill="#4a4a4a" font-weight="normal" stroke="#4a4a4a" stroke-width="0.07">50</text>
<line x1="25.4" y1="243.37142857142857" x2="27" y2="243.37142857142857" stroke="#999" stroke-width="0.6"/>
<text x="24.1" y="244.87142857142857" font-size="4.2" text-anchor="end" fill="#4a4a4a" font-weight="normal" stroke="#4a4a4a" stroke-width="0.07">60</text>
<line x1="25.4" y1="233.0" x2="27" y2="233.0" stroke="#999" stroke-width="0.6"/>
<text x="24.1" y="234.5" font-size="4.2" text-anchor="end" fill="#4a4a4a" font-weight="normal" stroke="#4a4a4a" stroke-width="0.07">70</text>
<text x="0" y="0" font-size="4.6" text-anchor="middle" fill="#222" stroke="#222" stroke-width="0.12" transform="translate(17.6,269.4) rotate(-90)" textLength="42.5" lengthAdjust="spacingAndGlyphs">Transcript per million</text>
<text x="33.56" y="312.05" font-size="4.125" text-anchor="start" fill="#2e2e2e" font-weight="normal" textLength="12.08" lengthAdjust="spacingAndGlyphs" stroke="#2e2e2e" stroke-width="0.08">Normal</text>
<text x="33.52" y="316.35" font-size="3.8500000000000005" text-anchor="start" fill="#2e2e2e" font-weight="normal" textLength="12.16" lengthAdjust="spacingAndGlyphs" stroke="#2e2e2e" stroke-width="0.08">(n = 52)</text>
<text x="54.465" y="312.05" font-size="3.6850000000000005" text-anchor="start" fill="#2e2e2e" font-weight="normal" textLength="17.07" lengthAdjust="spacingAndGlyphs" stroke="#2e2e2e" stroke-width="0.08">21 – 40 Yrs</text>
<text x="57.894999999999996" y="316.35" font-size="3.8500000000000005" text-anchor="start" fill="#2e2e2e" font-weight="normal" textLength="10.21" lengthAdjust="spacingAndGlyphs" stroke="#2e2e2e" stroke-width="0.08">(n = 2)</text>
<text x="79.465" y="312.05" font-size="3.6850000000000005" text-anchor="start" fill="#2e2e2e" font-weight="normal" textLength="17.07" lengthAdjust="spacingAndGlyphs" stroke="#2e2e2e" stroke-width="0.08">41 – 60 Yrs</text>
<text x="80.945" y="316.35" font-size="3.8500000000000005" text-anchor="start" fill="#2e2e2e" font-weight="normal" textLength="14.11" lengthAdjust="spacingAndGlyphs" stroke="#2e2e2e" stroke-width="0.08">(n = 103)</text>
<text x="102.465" y="312.05" font-size="3.6850000000000005" text-anchor="start" fill="#2e2e2e" font-weight="normal" textLength="17.07" lengthAdjust="spacingAndGlyphs" stroke="#2e2e2e" stroke-width="0.08">61 – 80 Yrs</text>
<text x="103.945" y="316.35" font-size="3.8500000000000005" text-anchor="start" fill="#2e2e2e" font-weight="normal" textLength="14.11" lengthAdjust="spacingAndGlyphs" stroke="#2e2e2e" stroke-width="0.08">(n = 361)</text>
<text x="124.535" y="312.05" font-size="3.6850000000000005" text-anchor="start" fill="#2e2e2e" font-weight="normal" textLength="18.93" lengthAdjust="spacingAndGlyphs" stroke="#2e2e2e" stroke-width="0.08">81 – 100 Yrs</text>
<text x="127.92" y="316.35" font-size="3.8500000000000005" text-anchor="start" fill="#2e2e2e" font-weight="normal" textLength="12.16" lengthAdjust="spacingAndGlyphs" stroke="#2e2e2e" stroke-width="0.08">(n = 20)</text>
<text x="73.2" y="323.59999999999997" font-size="4.6" text-anchor="start" fill="#222" font-weight="normal" textLength="28" lengthAdjust="spacingAndGlyphs" stroke="#222" stroke-width="0.05">TCGA samples</text>
<line x1="39.8" y1="297" x2="39.8" y2="300.6" stroke="#b8b8b8" stroke-width="1.0"/>
<line x1="36.9" y1="297.5" x2="42.699999999999996" y2="297.5" stroke="#6a6a6a" stroke-width="0.95"/>
<line x1="39.8" y1="302.4" x2="39.8" y2="303.6" stroke="#b8b8b8" stroke-width="1.0"/>
<line x1="36.9" y1="303.5" x2="42.699999999999996" y2="303.5" stroke="#6a6a6a" stroke-width="0.95"/>
<rect x="34.00" y="300.60" width="11.60" height="1.80" fill="#1e30b8"/>
<line x1="34.0" y1="301.6" x2="45.599999999999994" y2="301.6" stroke="rgba(0,0,0,0.66)" stroke-width="1.2"/>
<line x1="63.3" y1="274.4" x2="63.3" y2="279.4" stroke="#b8b8b8" stroke-width="1.0"/>
<line x1="60.4" y1="274.5" x2="66.2" y2="274.5" stroke="#6a6a6a" stroke-width="0.95"/>
<line x1="63.3" y1="288.6" x2="63.3" y2="292.6" stroke="#b8b8b8" stroke-width="1.0"/>
<line x1="60.4" y1="292.5" x2="66.2" y2="292.5" stroke="#6a6a6a" stroke-width="0.95"/>
<rect x="57.50" y="279.40" width="11.60" height="9.20" fill="#ff9005"/>
<line x1="57.5" y1="284" x2="69.1" y2="284" stroke="rgba(0,0,0,0.66)" stroke-width="1.2"/>
<line x1="86.8" y1="246" x2="86.8" y2="276.2" stroke="#b8b8b8" stroke-width="1.0"/>
<line x1="83.89999999999999" y1="246.5" x2="89.7" y2="246.5" stroke="#6a6a6a" stroke-width="0.95"/>
<line x1="86.8" y1="293.4" x2="86.8" y2="305.6" stroke="#b8b8b8" stroke-width="1.0"/>
<line x1="83.89999999999999" y1="305.5" x2="89.7" y2="305.5" stroke="#6a6a6a" stroke-width="0.95"/>
<rect x="81.00" y="276.20" width="11.60" height="17.20" fill="#cc7426"/>
<line x1="81.0" y1="284.4" x2="92.6" y2="284.4" stroke="rgba(0,0,0,0.66)" stroke-width="1.2"/>
<line x1="110.6" y1="254.4" x2="110.6" y2="278" stroke="#b8b8b8" stroke-width="1.0"/>
<line x1="107.69999999999999" y1="254.5" x2="113.5" y2="254.5" stroke="#6a6a6a" stroke-width="0.95"/>
<line x1="110.6" y1="292.4" x2="110.6" y2="305.6" stroke="#b8b8b8" stroke-width="1.0"/>
<line x1="107.69999999999999" y1="305.5" x2="113.5" y2="305.5" stroke="#6a6a6a" stroke-width="0.95"/>
<rect x="104.80" y="278.00" width="11.60" height="14.40" fill="#a0d500"/>
<line x1="104.8" y1="285.4" x2="116.39999999999999" y2="285.4" stroke="rgba(0,0,0,0.66)" stroke-width="1.2"/>
<line x1="134" y1="244" x2="134" y2="273.6" stroke="#b8b8b8" stroke-width="1.0"/>
<line x1="131.1" y1="244.5" x2="136.9" y2="244.5" stroke="#6a6a6a" stroke-width="0.95"/>
<line x1="134" y1="289" x2="134" y2="300.6" stroke="#b8b8b8" stroke-width="1.0"/>
<line x1="131.1" y1="300.5" x2="136.9" y2="300.5" stroke="#6a6a6a" stroke-width="0.95"/>
<rect x="128.20" y="273.60" width="11.60" height="15.40" fill="#ff3a0e"/>
<line x1="128.2" y1="281.4" x2="139.8" y2="281.4" stroke="rgba(0,0,0,0.66)" stroke-width="1.2"/>
<text x="163.9" y="229.9" font-size="4.6" text-anchor="start" fill="#222" font-weight="normal" textLength="115.1" lengthAdjust="spacingAndGlyphs" stroke="#222" stroke-width="0.05">Expression of TFAP2C in LUSC based on patient's smoking</text>
<text x="214.2" y="234.7" font-size="4.6" text-anchor="start" fill="#222" font-weight="normal" textLength="10.8" lengthAdjust="spacingAndGlyphs" stroke="#222" stroke-width="0.05">habits</text>
<line x1="168.6" y1="240.29999999999998" x2="168.6" y2="305.6" stroke="#c8c8c8" stroke-width="0.9"/>
<line x1="168.6" y1="305.6" x2="288" y2="305.6" stroke="#c8c8c8" stroke-width="0.9"/>
<line x1="167.0" y1="305.6" x2="168.6" y2="305.6" stroke="#999" stroke-width="0.6"/>
<text x="165.7" y="307.1" font-size="4.2" text-anchor="end" fill="#4a4a4a" font-weight="normal" stroke="#4a4a4a" stroke-width="0.07">0</text>
<line x1="167.0" y1="294.7666666666667" x2="168.6" y2="294.7666666666667" stroke="#999" stroke-width="0.6"/>
<text x="165.7" y="296.2666666666667" font-size="4.2" text-anchor="end" fill="#4a4a4a" font-weight="normal" stroke="#4a4a4a" stroke-width="0.07">10</text>
<line x1="167.0" y1="283.93333333333334" x2="168.6" y2="283.93333333333334" stroke="#999" stroke-width="0.6"/>
<text x="165.7" y="285.43333333333334" font-size="4.2" text-anchor="end" fill="#4a4a4a" font-weight="normal" stroke="#4a4a4a" stroke-width="0.07">20</text>
<line x1="167.0" y1="273.1" x2="168.6" y2="273.1" stroke="#999" stroke-width="0.6"/>
<text x="165.7" y="274.6" font-size="4.2" text-anchor="end" fill="#4a4a4a" font-weight="normal" stroke="#4a4a4a" stroke-width="0.07">30</text>
<line x1="167.0" y1="262.26666666666665" x2="168.6" y2="262.26666666666665" stroke="#999" stroke-width="0.6"/>
<text x="165.7" y="263.76666666666665" font-size="4.2" text-anchor="end" fill="#4a4a4a" font-weight="normal" stroke="#4a4a4a" stroke-width="0.07">40</text>
<line x1="167.0" y1="251.43333333333334" x2="168.6" y2="251.43333333333334" stroke="#999" stroke-width="0.6"/>
<text x="165.7" y="252.93333333333334" font-size="4.2" text-anchor="end" fill="#4a4a4a" font-weight="normal" stroke="#4a4a4a" stroke-width="0.07">50</text>
<line x1="167.0" y1="240.6" x2="168.6" y2="240.6" stroke="#999" stroke-width="0.6"/>
<text x="165.7" y="242.1" font-size="4.2" text-anchor="end" fill="#4a4a4a" font-weight="normal" stroke="#4a4a4a" stroke-width="0.07">60</text>
<text x="0" y="0" font-size="4.6" text-anchor="middle" fill="#222" stroke="#222" stroke-width="0.12" transform="translate(158.4,273) rotate(-90)" textLength="41.7" lengthAdjust="spacingAndGlyphs">Transcript per million</text>
<text x="175.66" y="312.35" font-size="4.125" text-anchor="start" fill="#2e2e2e" font-weight="normal" textLength="12.08" lengthAdjust="spacingAndGlyphs" stroke="#2e2e2e" stroke-width="0.08">Normal</text>
<text x="175.61999999999998" y="316.65000000000003" font-size="3.8500000000000005" text-anchor="start" fill="#2e2e2e" font-weight="normal" textLength="12.16" lengthAdjust="spacingAndGlyphs" stroke="#2e2e2e" stroke-width="0.08">(n = 52)</text>
<text x="193.79500000000002" y="312.35" font-size="4.125" text-anchor="start" fill="#2e2e2e" font-weight="normal" textLength="20.21" lengthAdjust="spacingAndGlyphs" stroke="#2e2e2e" stroke-width="0.08">Non smoker</text>
<text x="197.82" y="316.65000000000003" font-size="3.8500000000000005" text-anchor="start" fill="#2e2e2e" font-weight="normal" textLength="12.16" lengthAdjust="spacingAndGlyphs" stroke="#2e2e2e" stroke-width="0.08">(n = 18)</text>
<text x="219.84" y="312.35" font-size="4.125" text-anchor="start" fill="#2e2e2e" font-weight="normal" textLength="12.92" lengthAdjust="spacingAndGlyphs" stroke="#2e2e2e" stroke-width="0.08">Smoker</text>
<text x="219.245" y="316.65000000000003" font-size="3.8500000000000005" text-anchor="start" fill="#2e2e2e" font-weight="normal" textLength="14.11" lengthAdjust="spacingAndGlyphs" stroke="#2e2e2e" stroke-width="0.08">(n = 133)</text>
<text x="237.085" y="311.15000000000003" font-size="3.575" text-anchor="start" fill="#2e2e2e" font-weight="normal" textLength="25.83" lengthAdjust="spacingAndGlyphs" stroke="#2e2e2e" stroke-width="0.08">Reformed smoker</text>
<text x="242.37" y="315.55" font-size="3.3000000000000003" text-anchor="start" fill="#2e2e2e" font-weight="normal" textLength="15.26" lengthAdjust="spacingAndGlyphs" stroke="#2e2e2e" stroke-width="0.08">(&lt;15 years)</text>
<text x="243.92" y="320.35" font-size="3.8500000000000005" text-anchor="start" fill="#2e2e2e" font-weight="normal" textLength="12.16" lengthAdjust="spacingAndGlyphs" stroke="#2e2e2e" stroke-width="0.08">(n = 83)</text>
<text x="263.085" y="311.15000000000003" font-size="3.575" text-anchor="start" fill="#2e2e2e" font-weight="normal" textLength="25.83" lengthAdjust="spacingAndGlyphs" stroke="#2e2e2e" stroke-width="0.08">Reformed smoker</text>
<text x="268.37" y="315.55" font-size="3.3000000000000003" text-anchor="start" fill="#2e2e2e" font-weight="normal" textLength="15.26" lengthAdjust="spacingAndGlyphs" stroke="#2e2e2e" stroke-width="0.08">(&gt;15 years)</text>
<text x="268.945" y="320.35" font-size="3.8500000000000005" text-anchor="start" fill="#2e2e2e" font-weight="normal" textLength="14.11" lengthAdjust="spacingAndGlyphs" stroke="#2e2e2e" stroke-width="0.08">(n = 267)</text>
<text x="213.5" y="327.9" font-size="4.6" text-anchor="start" fill="#222" font-weight="normal" textLength="28" lengthAdjust="spacingAndGlyphs" stroke="#222" stroke-width="0.05">TCGA samples</text>
<line x1="180.3" y1="297" x2="180.3" y2="300.4" stroke="#b8b8b8" stroke-width="1.0"/>
<line x1="177.3" y1="297.5" x2="183.3" y2="297.5" stroke="#6a6a6a" stroke-width="0.95"/>
<line x1="180.3" y1="302.2" x2="180.3" y2="303.2" stroke="#b8b8b8" stroke-width="1.0"/>
<line x1="177.3" y1="303.5" x2="183.3" y2="303.5" stroke="#6a6a6a" stroke-width="0.95"/>
<rect x="174.30" y="300.40" width="12.00" height="1.80" fill="#1e30b8"/>
<line x1="174.3" y1="301.2" x2="186.3" y2="301.2" stroke="rgba(0,0,0,0.66)" stroke-width="1.2"/>
<line x1="204" y1="269" x2="204" y2="288" stroke="#b8b8b8" stroke-width="1.0"/>
<line x1="201.0" y1="269.5" x2="207.0" y2="269.5" stroke="#6a6a6a" stroke-width="0.95"/>
<line x1="204" y1="295.6" x2="204" y2="305.6" stroke="#b8b8b8" stroke-width="1.0"/>
<line x1="201.0" y1="305.5" x2="207.0" y2="305.5" stroke="#6a6a6a" stroke-width="0.95"/>
<rect x="198.00" y="288.00" width="12.00" height="7.60" fill="#ff9005"/>
<line x1="198.0" y1="294" x2="210.0" y2="294" stroke="rgba(0,0,0,0.66)" stroke-width="1.2"/>
<line x1="227.6" y1="248.4" x2="227.6" y2="272" stroke="#b8b8b8" stroke-width="1.0"/>
<line x1="224.6" y1="248.5" x2="230.6" y2="248.5" stroke="#6a6a6a" stroke-width="0.95"/>
<line x1="227.6" y1="289.2" x2="227.6" y2="302.4" stroke="#b8b8b8" stroke-width="1.0"/>
<line x1="224.6" y1="302.5" x2="230.6" y2="302.5" stroke="#6a6a6a" stroke-width="0.95"/>
<rect x="221.60" y="272.00" width="12.00" height="17.20" fill="#a0d500"/>
<line x1="221.6" y1="281.2" x2="233.6" y2="281.2" stroke="rgba(0,0,0,0.66)" stroke-width="1.2"/>
<line x1="251" y1="249.4" x2="251" y2="275" stroke="#b8b8b8" stroke-width="1.0"/>
<line x1="248.0" y1="249.5" x2="254.0" y2="249.5" stroke="#6a6a6a" stroke-width="0.95"/>
<line x1="251" y1="291" x2="251" y2="301.4" stroke="#b8b8b8" stroke-width="1.0"/>
<line x1="248.0" y1="301.5" x2="254.0" y2="301.5" stroke="#6a6a6a" stroke-width="0.95"/>
<rect x="245.00" y="275.00" width="12.00" height="16.00" fill="#cc7426"/>
<line x1="245.0" y1="283.2" x2="257.0" y2="283.2" stroke="rgba(0,0,0,0.66)" stroke-width="1.2"/>
<line x1="274.8" y1="254.4" x2="274.8" y2="277" stroke="#b8b8b8" stroke-width="1.0"/>
<line x1="271.8" y1="254.5" x2="277.8" y2="254.5" stroke="#6a6a6a" stroke-width="0.95"/>
<line x1="274.8" y1="291.4" x2="274.8" y2="305.6" stroke="#b8b8b8" stroke-width="1.0"/>
<line x1="271.8" y1="305.5" x2="277.8" y2="305.5" stroke="#6a6a6a" stroke-width="0.95"/>
<rect x="268.80" y="277.00" width="12.00" height="14.40" fill="#ff16d0"/>
<line x1="268.8" y1="284.4" x2="280.8" y2="284.4" stroke="rgba(0,0,0,0.66)" stroke-width="1.2"/>
<text x="303.5" y="229.6" font-size="4.6" text-anchor="start" fill="#222" font-weight="normal" textLength="122.5" lengthAdjust="spacingAndGlyphs" stroke="#222" stroke-width="0.05">Expression of TFAP2C in LUSC based on TP53 mutation status</text>
<line x1="311" y1="235.7" x2="311" y2="308" stroke="#c8c8c8" stroke-width="0.9"/>
<line x1="311" y1="308" x2="429.6" y2="308" stroke="#c8c8c8" stroke-width="0.9"/>
<line x1="309.4" y1="308.0" x2="311" y2="308.0" stroke="#999" stroke-width="0.6"/>
<text x="308.1" y="309.5" font-size="4.2" text-anchor="end" fill="#4a4a4a" font-weight="normal" stroke="#4a4a4a" stroke-width="0.07">0</text>
<line x1="309.4" y1="296.0" x2="311" y2="296.0" stroke="#999" stroke-width="0.6"/>
<text x="308.1" y="297.5" font-size="4.2" text-anchor="end" fill="#4a4a4a" font-weight="normal" stroke="#4a4a4a" stroke-width="0.07">10</text>
<line x1="309.4" y1="284.0" x2="311" y2="284.0" stroke="#999" stroke-width="0.6"/>
<text x="308.1" y="285.5" font-size="4.2" text-anchor="end" fill="#4a4a4a" font-weight="normal" stroke="#4a4a4a" stroke-width="0.07">20</text>
<line x1="309.4" y1="272.0" x2="311" y2="272.0" stroke="#999" stroke-width="0.6"/>
<text x="308.1" y="273.5" font-size="4.2" text-anchor="end" fill="#4a4a4a" font-weight="normal" stroke="#4a4a4a" stroke-width="0.07">30</text>
<line x1="309.4" y1="260.0" x2="311" y2="260.0" stroke="#999" stroke-width="0.6"/>
<text x="308.1" y="261.5" font-size="4.2" text-anchor="end" fill="#4a4a4a" font-weight="normal" stroke="#4a4a4a" stroke-width="0.07">40</text>
<line x1="309.4" y1="248.0" x2="311" y2="248.0" stroke="#999" stroke-width="0.6"/>
<text x="308.1" y="249.5" font-size="4.2" text-anchor="end" fill="#4a4a4a" font-weight="normal" stroke="#4a4a4a" stroke-width="0.07">50</text>
<line x1="309.4" y1="236.0" x2="311" y2="236.0" stroke="#999" stroke-width="0.6"/>
<text x="308.1" y="237.5" font-size="4.2" text-anchor="end" fill="#4a4a4a" font-weight="normal" stroke="#4a4a4a" stroke-width="0.07">60</text>
<text x="0" y="0" font-size="4.6" text-anchor="middle" fill="#222" stroke="#222" stroke-width="0.12" transform="translate(300.90000000000003,272.5) rotate(-90)" textLength="41.8" lengthAdjust="spacingAndGlyphs">Transcript per million</text>
<text x="325.95" y="313.45000000000005" font-size="4.125" text-anchor="start" fill="#2e2e2e" font-weight="normal" textLength="12.7" lengthAdjust="spacingAndGlyphs" stroke="#2e2e2e" stroke-width="0.08">Normal</text>
<text x="326.22" y="318.65000000000003" font-size="3.8500000000000005" text-anchor="start" fill="#2e2e2e" font-weight="normal" textLength="12.16" lengthAdjust="spacingAndGlyphs" stroke="#2e2e2e" stroke-width="0.08">(n = 52)</text>
<text x="360.15000000000003" y="313.45000000000005" font-size="3.63" text-anchor="start" fill="#2e2e2e" font-weight="normal" textLength="20.3" lengthAdjust="spacingAndGlyphs" stroke="#2e2e2e" stroke-width="0.08">TP53-Mutant</text>
<text x="363.245" y="318.65000000000003" font-size="3.8500000000000005" text-anchor="start" fill="#2e2e2e" font-weight="normal" textLength="14.11" lengthAdjust="spacingAndGlyphs" stroke="#2e2e2e" stroke-width="0.08">(n = 369)</text>
<text x="395.7" y="313.45000000000005" font-size="3.63" text-anchor="start" fill="#2e2e2e" font-weight="normal" textLength="29.4" lengthAdjust="spacingAndGlyphs" stroke="#2e2e2e" stroke-width="0.08">TP53-NonMutant</text>
<text x="403.47499999999997" y="318.65000000000003" font-size="3.8500000000000005" text-anchor="start" fill="#2e2e2e" font-weight="normal" textLength="13.85" lengthAdjust="spacingAndGlyphs" stroke="#2e2e2e" stroke-width="0.08">(n = 118)</text>
<text x="357.6" y="326.09999999999997" font-size="4.6" text-anchor="start" fill="#222" font-weight="normal" textLength="28" lengthAdjust="spacingAndGlyphs" stroke="#222" stroke-width="0.05">TCGA samples</text>
<line x1="331.5" y1="298.4" x2="331.5" y2="302.2" stroke="#b8b8b8" stroke-width="1.0"/>
<line x1="326.75" y1="298.5" x2="336.25" y2="298.5" stroke="#6a6a6a" stroke-width="0.95"/>
<line x1="331.5" y1="304.4" x2="331.5" y2="306.4" stroke="#b8b8b8" stroke-width="1.0"/>
<line x1="326.75" y1="306.5" x2="336.25" y2="306.5" stroke="#6a6a6a" stroke-width="0.95"/>
<rect x="322.00" y="302.20" width="19.00" height="2.20" fill="#1e30b8"/>
<line x1="322.0" y1="303.2" x2="341.0" y2="303.2" stroke="rgba(0,0,0,0.66)" stroke-width="1.2"/>
<line x1="370.9" y1="242" x2="370.9" y2="273" stroke="#b8b8b8" stroke-width="1.0"/>
<line x1="366.15" y1="242.5" x2="375.65" y2="242.5" stroke="#6a6a6a" stroke-width="0.95"/>
<line x1="370.9" y1="290.7" x2="370.9" y2="308" stroke="#b8b8b8" stroke-width="1.0"/>
<line x1="366.15" y1="308.5" x2="375.65" y2="308.5" stroke="#6a6a6a" stroke-width="0.95"/>
<rect x="361.40" y="273.00" width="19.00" height="17.70" fill="#ff3a0e"/>
<line x1="361.4" y1="283.2" x2="380.4" y2="283.2" stroke="rgba(0,0,0,0.66)" stroke-width="1.2"/>
<line x1="410.1" y1="252" x2="410.1" y2="277.2" stroke="#b8b8b8" stroke-width="1.0"/>
<line x1="405.35" y1="252.5" x2="414.85" y2="252.5" stroke="#6a6a6a" stroke-width="0.95"/>
<line x1="410.1" y1="295.4" x2="410.1" y2="308" stroke="#b8b8b8" stroke-width="1.0"/>
<line x1="405.35" y1="308.5" x2="414.85" y2="308.5" stroke="#6a6a6a" stroke-width="0.95"/>
<rect x="400.60" y="277.20" width="19.00" height="18.20" fill="#ff9005"/>
<line x1="400.6" y1="285.6" x2="419.6" y2="285.6" stroke="rgba(0,0,0,0.66)" stroke-width="1.2"/>
<text x="29" y="334.7" font-size="4.6" text-anchor="start" fill="#222" font-weight="normal" textLength="105" lengthAdjust="spacingAndGlyphs" stroke="#222" stroke-width="0.05">Expression of TFAP2D in LUSC based on patient's age</text>
<line x1="30.6" y1="341.2" x2="30.6" y2="413.8" stroke="#c8c8c8" stroke-width="0.9"/>
<line x1="30.6" y1="413.8" x2="143" y2="413.8" stroke="#c8c8c8" stroke-width="0.9"/>
<line x1="29.0" y1="413.8" x2="30.6" y2="413.8" stroke="#999" stroke-width="0.6"/>
<text x="27.700000000000003" y="415.3" font-size="4.2" text-anchor="end" fill="#4a4a4a" font-weight="normal" stroke="#4a4a4a" stroke-width="0.07">0</text>
<line x1="29.0" y1="403.4714285714286" x2="30.6" y2="403.4714285714286" stroke="#999" stroke-width="0.6"/>
<text x="27.700000000000003" y="404.9714285714286" font-size="4.2" text-anchor="end" fill="#4a4a4a" font-weight="normal" stroke="#4a4a4a" stroke-width="0.07">0.01</text>
<line x1="29.0" y1="393.14285714285717" x2="30.6" y2="393.14285714285717" stroke="#999" stroke-width="0.6"/>
<text x="27.700000000000003" y="394.64285714285717" font-size="4.2" text-anchor="end" fill="#4a4a4a" font-weight="normal" stroke="#4a4a4a" stroke-width="0.07">0.02</text>
<line x1="29.0" y1="382.81428571428575" x2="30.6" y2="382.81428571428575" stroke="#999" stroke-width="0.6"/>
<text x="27.700000000000003" y="384.31428571428575" font-size="4.2" text-anchor="end" fill="#4a4a4a" font-weight="normal" stroke="#4a4a4a" stroke-width="0.07">0.03</text>
<line x1="29.0" y1="372.48571428571427" x2="30.6" y2="372.48571428571427" stroke="#999" stroke-width="0.6"/>
<text x="27.700000000000003" y="373.98571428571427" font-size="4.2" text-anchor="end" fill="#4a4a4a" font-weight="normal" stroke="#4a4a4a" stroke-width="0.07">0.04</text>
<line x1="29.0" y1="362.15714285714284" x2="30.6" y2="362.15714285714284" stroke="#999" stroke-width="0.6"/>
<text x="27.700000000000003" y="363.65714285714284" font-size="4.2" text-anchor="end" fill="#4a4a4a" font-weight="normal" stroke="#4a4a4a" stroke-width="0.07">0.05</text>
<line x1="29.0" y1="351.8285714285714" x2="30.6" y2="351.8285714285714" stroke="#999" stroke-width="0.6"/>
<text x="27.700000000000003" y="353.3285714285714" font-size="4.2" text-anchor="end" fill="#4a4a4a" font-weight="normal" stroke="#4a4a4a" stroke-width="0.07">0.06</text>
<line x1="29.0" y1="341.5" x2="30.6" y2="341.5" stroke="#999" stroke-width="0.6"/>
<text x="27.700000000000003" y="343.0" font-size="4.2" text-anchor="end" fill="#4a4a4a" font-weight="normal" stroke="#4a4a4a" stroke-width="0.07">0.07</text>
<text x="0" y="0" font-size="4.6" text-anchor="middle" fill="#222" stroke="#222" stroke-width="0.12" transform="translate(18.5,377.5) rotate(-90)" textLength="41.8" lengthAdjust="spacingAndGlyphs">Transcript per million</text>
<text x="35.56" y="420.35" font-size="4.125" text-anchor="start" fill="#2e2e2e" font-weight="normal" textLength="12.08" lengthAdjust="spacingAndGlyphs" stroke="#2e2e2e" stroke-width="0.08">Normal</text>
<text x="35.52" y="424.55" font-size="3.8500000000000005" text-anchor="start" fill="#2e2e2e" font-weight="normal" textLength="12.16" lengthAdjust="spacingAndGlyphs" stroke="#2e2e2e" stroke-width="0.08">(n = 52)</text>
<text x="55.765" y="420.35" font-size="3.6850000000000005" text-anchor="start" fill="#2e2e2e" font-weight="normal" textLength="17.07" lengthAdjust="spacingAndGlyphs" stroke="#2e2e2e" stroke-width="0.08">21 – 40 Yrs</text>
<text x="59.19499999999999" y="424.55" font-size="3.8500000000000005" text-anchor="start" fill="#2e2e2e" font-weight="normal" textLength="10.21" lengthAdjust="spacingAndGlyphs" stroke="#2e2e2e" stroke-width="0.08">(n = 2)</text>
<text x="80.965" y="420.35" font-size="3.6850000000000005" text-anchor="start" fill="#2e2e2e" font-weight="normal" textLength="17.07" lengthAdjust="spacingAndGlyphs" stroke="#2e2e2e" stroke-width="0.08">41 – 60 Yrs</text>
<text x="82.445" y="424.55" font-size="3.8500000000000005" text-anchor="start" fill="#2e2e2e" font-weight="normal" textLength="14.11" lengthAdjust="spacingAndGlyphs" stroke="#2e2e2e" stroke-width="0.08">(n = 103)</text>
<text x="104.465" y="420.35" font-size="3.6850000000000005" text-anchor="start" fill="#2e2e2e" font-weight="normal" textLength="17.07" lengthAdjust="spacingAndGlyphs" stroke="#2e2e2e" stroke-width="0.08">61 – 80 Yrs</text>
<text x="105.945" y="424.55" font-size="3.8500000000000005" text-anchor="start" fill="#2e2e2e" font-weight="normal" textLength="14.11" lengthAdjust="spacingAndGlyphs" stroke="#2e2e2e" stroke-width="0.08">(n = 361)</text>
<text x="126.535" y="420.35" font-size="3.6850000000000005" text-anchor="start" fill="#2e2e2e" font-weight="normal" textLength="18.93" lengthAdjust="spacingAndGlyphs" stroke="#2e2e2e" stroke-width="0.08">81 – 100 Yrs</text>
<text x="129.92" y="424.55" font-size="3.8500000000000005" text-anchor="start" fill="#2e2e2e" font-weight="normal" textLength="12.16" lengthAdjust="spacingAndGlyphs" stroke="#2e2e2e" stroke-width="0.08">(n = 20)</text>
<text x="75" y="431.7" font-size="4.6" text-anchor="start" fill="#222" font-weight="normal" textLength="28" lengthAdjust="spacingAndGlyphs" stroke="#222" stroke-width="0.05">TCGA samples</text>
<line x1="36.0" y1="413.5" x2="47.0" y2="413.5" stroke="#777" stroke-width="0.9"/>
<line x1="59.8" y1="413.5" x2="70.8" y2="413.5" stroke="#777" stroke-width="0.9"/>
<line x1="88.6" y1="374.4" x2="88.6" y2="413.5" stroke="#b8b8b8" stroke-width="1.0"/>
<line x1="85.85" y1="374.5" x2="91.35" y2="374.5" stroke="#6a6a6a" stroke-width="0.95"/>
<line x1="83.1" y1="413.5" x2="94.1" y2="413.5" stroke="#777" stroke-width="0.9"/>
<line x1="112" y1="352.4" x2="112" y2="413.5" stroke="#b8b8b8" stroke-width="1.0"/>
<line x1="109.25" y1="352.5" x2="114.75" y2="352.5" stroke="#6a6a6a" stroke-width="0.95"/>
<line x1="106.5" y1="413.5" x2="117.5" y2="413.5" stroke="#777" stroke-width="0.9"/>
<line x1="129.0" y1="413.5" x2="140.0" y2="413.5" stroke="#777" stroke-width="0.9"/>
<text x="165.5" y="340.1" font-size="4.6" text-anchor="start" fill="#222" font-weight="normal" textLength="114.5" lengthAdjust="spacingAndGlyphs" stroke="#222" stroke-width="0.05">Expression of TFAP2D in LUSC based on patient's smoking</text>
<text x="217.5" y="344.9" font-size="4.6" text-anchor="start" fill="#222" font-weight="normal" textLength="11.0" lengthAdjust="spacingAndGlyphs" stroke="#222" stroke-width="0.05">habits</text>
<line x1="172.7" y1="350.2" x2="172.7" y2="412.2" stroke="#c8c8c8" stroke-width="0.9"/>
<line x1="172.7" y1="412.2" x2="289" y2="412.2" stroke="#c8c8c8" stroke-width="0.9"/>
<line x1="171.1" y1="412.2" x2="172.7" y2="412.2" stroke="#999" stroke-width="0.6"/>
<text x="169.79999999999998" y="413.7" font-size="4.2" text-anchor="end" fill="#4a4a4a" font-weight="normal" stroke="#4a4a4a" stroke-width="0.07">0</text>
<line x1="171.1" y1="399.86" x2="172.7" y2="399.86" stroke="#999" stroke-width="0.6"/>
<text x="169.79999999999998" y="401.36" font-size="4.2" text-anchor="end" fill="#4a4a4a" font-weight="normal" stroke="#4a4a4a" stroke-width="0.07">0.02</text>
<line x1="171.1" y1="387.52" x2="172.7" y2="387.52" stroke="#999" stroke-width="0.6"/>
<text x="169.79999999999998" y="389.02" font-size="4.2" text-anchor="end" fill="#4a4a4a" font-weight="normal" stroke="#4a4a4a" stroke-width="0.07">0.04</text>
<line x1="171.1" y1="375.18" x2="172.7" y2="375.18" stroke="#999" stroke-width="0.6"/>
<text x="169.79999999999998" y="376.68" font-size="4.2" text-anchor="end" fill="#4a4a4a" font-weight="normal" stroke="#4a4a4a" stroke-width="0.07">0.06</text>
<line x1="171.1" y1="362.84" x2="172.7" y2="362.84" stroke="#999" stroke-width="0.6"/>
<text x="169.79999999999998" y="364.34" font-size="4.2" text-anchor="end" fill="#4a4a4a" font-weight="normal" stroke="#4a4a4a" stroke-width="0.07">0.08</text>
<line x1="171.1" y1="350.5" x2="172.7" y2="350.5" stroke="#999" stroke-width="0.6"/>
<text x="169.79999999999998" y="352.0" font-size="4.2" text-anchor="end" fill="#4a4a4a" font-weight="normal" stroke="#4a4a4a" stroke-width="0.07">0.1</text>
<text x="0" y="0" font-size="4.6" text-anchor="middle" fill="#222" stroke="#222" stroke-width="0.12" transform="translate(160.7,382.2) rotate(-90)" textLength="41.7" lengthAdjust="spacingAndGlyphs">Transcript per million</text>
<text x="177.66" y="419.35" font-size="4.125" text-anchor="start" fill="#2e2e2e" font-weight="normal" textLength="12.08" lengthAdjust="spacingAndGlyphs" stroke="#2e2e2e" stroke-width="0.08">Normal</text>
<text x="177.61999999999998" y="424.15000000000003" font-size="3.8500000000000005" text-anchor="start" fill="#2e2e2e" font-weight="normal" textLength="12.16" lengthAdjust="spacingAndGlyphs" stroke="#2e2e2e" stroke-width="0.08">(n = 52)</text>
<text x="196.595" y="419.35" font-size="4.125" text-anchor="start" fill="#2e2e2e" font-weight="normal" textLength="20.21" lengthAdjust="spacingAndGlyphs" stroke="#2e2e2e" stroke-width="0.08">Non smoker</text>
<text x="200.61999999999998" y="424.15000000000003" font-size="3.8500000000000005" text-anchor="start" fill="#2e2e2e" font-weight="normal" textLength="12.16" lengthAdjust="spacingAndGlyphs" stroke="#2e2e2e" stroke-width="0.08">(n = 18)</text>
<text x="222.64" y="419.35" font-size="4.125" text-anchor="start" fill="#2e2e2e" font-weight="normal" textLength="12.92" lengthAdjust="spacingAndGlyphs" stroke="#2e2e2e" stroke-width="0.08">Smoker</text>
<text x="222.045" y="424.15000000000003" font-size="3.8500000000000005" text-anchor="start" fill="#2e2e2e" font-weight="normal" textLength="14.11" lengthAdjust="spacingAndGlyphs" stroke="#2e2e2e" stroke-width="0.08">(n = 133)</text>
<text x="239.085" y="418.65000000000003" font-size="3.575" text-anchor="start" fill="#2e2e2e" font-weight="normal" textLength="25.83" lengthAdjust="spacingAndGlyphs" stroke="#2e2e2e" stroke-width="0.08">Reformed smoker</text>
<text x="244.37" y="423.05" font-size="3.3000000000000003" text-anchor="start" fill="#2e2e2e" font-weight="normal" textLength="15.26" lengthAdjust="spacingAndGlyphs" stroke="#2e2e2e" stroke-width="0.08">(&lt;15 years)</text>
<text x="245.92" y="427.85" font-size="3.8500000000000005" text-anchor="start" fill="#2e2e2e" font-weight="normal" textLength="12.16" lengthAdjust="spacingAndGlyphs" stroke="#2e2e2e" stroke-width="0.08">(n = 83)</text>
<text x="266.085" y="418.65000000000003" font-size="3.575" text-anchor="start" fill="#2e2e2e" font-weight="normal" textLength="25.83" lengthAdjust="spacingAndGlyphs" stroke="#2e2e2e" stroke-width="0.08">Reformed smoker</text>
<text x="271.37" y="423.05" font-size="3.3000000000000003" text-anchor="start" fill="#2e2e2e" font-weight="normal" textLength="15.26" lengthAdjust="spacingAndGlyphs" stroke="#2e2e2e" stroke-width="0.08">(&gt;15 years)</text>
<text x="271.945" y="427.85" font-size="3.8500000000000005" text-anchor="start" fill="#2e2e2e" font-weight="normal" textLength="14.11" lengthAdjust="spacingAndGlyphs" stroke="#2e2e2e" stroke-width="0.08">(n = 267)</text>
<text x="215.7" y="434.9" font-size="4.6" text-anchor="start" fill="#222" font-weight="normal" textLength="28" lengthAdjust="spacingAndGlyphs" stroke="#222" stroke-width="0.05">TCGA samples</text>
<line x1="178.5" y1="411.9" x2="189.89999999999998" y2="411.9" stroke="#777" stroke-width="0.9"/>
<line x1="202.0" y1="411.9" x2="213.39999999999998" y2="411.9" stroke="#777" stroke-width="0.9"/>
<line x1="230.6" y1="375" x2="230.6" y2="411.9" stroke="#b8b8b8" stroke-width="1.0"/>
<line x1="227.75" y1="375.5" x2="233.45" y2="375.5" stroke="#6a6a6a" stroke-width="0.95"/>
<line x1="224.9" y1="411.9" x2="236.29999999999998" y2="411.9" stroke="#777" stroke-width="0.9"/>
<line x1="247.8" y1="411.9" x2="259.2" y2="411.9" stroke="#777" stroke-width="0.9"/>
<line x1="276.6" y1="364.4" x2="276.6" y2="411.9" stroke="#b8b8b8" stroke-width="1.0"/>
<line x1="273.75" y1="364.5" x2="279.45000000000005" y2="364.5" stroke="#6a6a6a" stroke-width="0.95"/>
<line x1="270.90000000000003" y1="411.9" x2="282.3" y2="411.9" stroke="#777" stroke-width="0.9"/>
<text x="309.1" y="335.6" font-size="4.6" text-anchor="start" fill="#222" font-weight="normal" textLength="109.5" lengthAdjust="spacingAndGlyphs" stroke="#222" stroke-width="0.05">Expression of TFAP2D in LUSC based on TP53 mutation</text>
<text x="357" y="340.3" font-size="4.6" text-anchor="start" fill="#222" font-weight="normal" textLength="12" lengthAdjust="spacingAndGlyphs" stroke="#222" stroke-width="0.05">status</text>
<line x1="312.3" y1="347.09999999999997" x2="312.3" y2="414.6" stroke="#c8c8c8" stroke-width="0.9"/>
<line x1="312.3" y1="414.6" x2="428" y2="414.6" stroke="#c8c8c8" stroke-width="0.9"/>
<line x1="310.7" y1="414.6" x2="312.3" y2="414.6" stroke="#999" stroke-width="0.6"/>
<text x="309.40000000000003" y="416.1" font-size="4.2" text-anchor="end" fill="#4a4a4a" font-weight="normal" stroke="#4a4a4a" stroke-width="0.07">0</text>
<line x1="310.7" y1="397.8" x2="312.3" y2="397.8" stroke="#999" stroke-width="0.6"/>
<text x="309.40000000000003" y="399.3" font-size="4.2" text-anchor="end" fill="#4a4a4a" font-weight="normal" stroke="#4a4a4a" stroke-width="0.07">0.02</text>
<line x1="310.7" y1="381.0" x2="312.3" y2="381.0" stroke="#999" stroke-width="0.6"/>
<text x="309.40000000000003" y="382.5" font-size="4.2" text-anchor="end" fill="#4a4a4a" font-weight="normal" stroke="#4a4a4a" stroke-width="0.07">0.04</text>
<line x1="310.7" y1="364.2" x2="312.3" y2="364.2" stroke="#999" stroke-width="0.6"/>
<text x="309.40000000000003" y="365.7" font-size="4.2" text-anchor="end" fill="#4a4a4a" font-weight="normal" stroke="#4a4a4a" stroke-width="0.07">0.06</text>
<line x1="310.7" y1="347.4" x2="312.3" y2="347.4" stroke="#999" stroke-width="0.6"/>
<text x="309.40000000000003" y="348.9" font-size="4.2" text-anchor="end" fill="#4a4a4a" font-weight="normal" stroke="#4a4a4a" stroke-width="0.07">0.08</text>
<text x="0" y="0" font-size="4.6" text-anchor="middle" fill="#222" stroke="#222" stroke-width="0.12" transform="translate(299.40000000000003,381.4) rotate(-90)" textLength="42.5" lengthAdjust="spacingAndGlyphs">Transcript per million</text>
<text x="324.15" y="420.45000000000005" font-size="4.125" text-anchor="start" fill="#2e2e2e" font-weight="normal" textLength="12.7" lengthAdjust="spacingAndGlyphs" stroke="#2e2e2e" stroke-width="0.08">Normal</text>
<text x="324.42" y="425.45000000000005" font-size="3.8500000000000005" text-anchor="start" fill="#2e2e2e" font-weight="normal" textLength="12.16" lengthAdjust="spacingAndGlyphs" stroke="#2e2e2e" stroke-width="0.08">(n = 52)</text>
<text x="358.25" y="420.45000000000005" font-size="3.63" text-anchor="start" fill="#2e2e2e" font-weight="normal" textLength="22.1" lengthAdjust="spacingAndGlyphs" stroke="#2e2e2e" stroke-width="0.08">TP53-Mutant</text>
<text x="362.245" y="425.45000000000005" font-size="3.8500000000000005" text-anchor="start" fill="#2e2e2e" font-weight="normal" textLength="14.11" lengthAdjust="spacingAndGlyphs" stroke="#2e2e2e" stroke-width="0.08">(n = 369)</text>
<text x="393.1" y="420.45000000000005" font-size="3.63" text-anchor="start" fill="#2e2e2e" font-weight="normal" textLength="29.4" lengthAdjust="spacingAndGlyphs" stroke="#2e2e2e" stroke-width="0.08">TP53-NonMutant</text>
<text x="400.875" y="425.45000000000005" font-size="3.8500000000000005" text-anchor="start" fill="#2e2e2e" font-weight="normal" textLength="13.85" lengthAdjust="spacingAndGlyphs" stroke="#2e2e2e" stroke-width="0.08">(n = 118)</text>
<text x="355.7" y="432.7" font-size="4.6" text-anchor="start" fill="#222" font-weight="normal" textLength="28" lengthAdjust="spacingAndGlyphs" stroke="#222" stroke-width="0.05">TCGA samples</text>
<line x1="322.7" y1="414.3" x2="341.7" y2="414.3" stroke="#777" stroke-width="0.9"/>
<line x1="370.4" y1="353.6" x2="370.4" y2="414.3" stroke="#b8b8b8" stroke-width="1.0"/>
<line x1="365.65" y1="353.5" x2="375.15" y2="353.5" stroke="#6a6a6a" stroke-width="0.95"/>
<line x1="360.9" y1="414.3" x2="379.9" y2="414.3" stroke="#777" stroke-width="0.9"/>
<line x1="399.5" y1="414.3" x2="418.5" y2="414.3" stroke="#777" stroke-width="0.9"/>
<text x="31.4" y="447.6" font-size="4.6" text-anchor="start" fill="#222" font-weight="normal" textLength="104.0" lengthAdjust="spacingAndGlyphs" stroke="#222" stroke-width="0.05">Expression of TFAP2E in LUSC based on patient's age</text>
<line x1="28.8" y1="453.59999999999997" x2="28.8" y2="526.5" stroke="#c8c8c8" stroke-width="0.9"/>
<line x1="28.8" y1="526.5" x2="145" y2="526.5" stroke="#c8c8c8" stroke-width="0.9"/>
<line x1="27.2" y1="526.5" x2="28.8" y2="526.5" stroke="#999" stroke-width="0.6"/>
<text x="25.900000000000002" y="528.0" font-size="4.2" text-anchor="end" fill="#4a4a4a" font-weight="normal" stroke="#4a4a4a" stroke-width="0.07">0</text>
<line x1="27.2" y1="511.98" x2="28.8" y2="511.98" stroke="#999" stroke-width="0.6"/>
<text x="25.900000000000002" y="513.48" font-size="4.2" text-anchor="end" fill="#4a4a4a" font-weight="normal" stroke="#4a4a4a" stroke-width="0.07">1</text>
<line x1="27.2" y1="497.46" x2="28.8" y2="497.46" stroke="#999" stroke-width="0.6"/>
<text x="25.900000000000002" y="498.96" font-size="4.2" text-anchor="end" fill="#4a4a4a" font-weight="normal" stroke="#4a4a4a" stroke-width="0.07">2</text>
<line x1="27.2" y1="482.94" x2="28.8" y2="482.94" stroke="#999" stroke-width="0.6"/>
<text x="25.900000000000002" y="484.44" font-size="4.2" text-anchor="end" fill="#4a4a4a" font-weight="normal" stroke="#4a4a4a" stroke-width="0.07">3</text>
<line x1="27.2" y1="468.41999999999996" x2="28.8" y2="468.41999999999996" stroke="#999" stroke-width="0.6"/>
<text x="25.900000000000002" y="469.91999999999996" font-size="4.2" text-anchor="end" fill="#4a4a4a" font-weight="normal" stroke="#4a4a4a" stroke-width="0.07">4</text>
<line x1="27.2" y1="453.9" x2="28.8" y2="453.9" stroke="#999" stroke-width="0.6"/>
<text x="25.900000000000002" y="455.4" font-size="4.2" text-anchor="end" fill="#4a4a4a" font-weight="normal" stroke="#4a4a4a" stroke-width="0.07">5</text>
<text x="0" y="0" font-size="4.6" text-anchor="middle" fill="#222" stroke="#222" stroke-width="0.12" transform="translate(18.5,490.5) rotate(-90)" textLength="41.8" lengthAdjust="spacingAndGlyphs">Transcript per million</text>
<text x="34.56" y="533.35" font-size="4.125" text-anchor="start" fill="#2e2e2e" font-weight="normal" textLength="12.08" lengthAdjust="spacingAndGlyphs" stroke="#2e2e2e" stroke-width="0.08">Normal</text>
<text x="34.52" y="537.4499999999999" font-size="3.8500000000000005" text-anchor="start" fill="#2e2e2e" font-weight="normal" textLength="12.16" lengthAdjust="spacingAndGlyphs" stroke="#2e2e2e" stroke-width="0.08">(n = 52)</text>
<text x="54.265" y="533.35" font-size="3.6850000000000005" text-anchor="start" fill="#2e2e2e" font-weight="normal" textLength="17.07" lengthAdjust="spacingAndGlyphs" stroke="#2e2e2e" stroke-width="0.08">21 – 40 Yrs</text>
<text x="57.69499999999999" y="537.4499999999999" font-size="3.8500000000000005" text-anchor="start" fill="#2e2e2e" font-weight="normal" textLength="10.21" lengthAdjust="spacingAndGlyphs" stroke="#2e2e2e" stroke-width="0.08">(n = 2)</text>
<text x="79.965" y="533.35" font-size="3.6850000000000005" text-anchor="start" fill="#2e2e2e" font-weight="normal" textLength="17.07" lengthAdjust="spacingAndGlyphs" stroke="#2e2e2e" stroke-width="0.08">41 – 60 Yrs</text>
<text x="81.445" y="537.4499999999999" font-size="3.8500000000000005" text-anchor="start" fill="#2e2e2e" font-weight="normal" textLength="14.11" lengthAdjust="spacingAndGlyphs" stroke="#2e2e2e" stroke-width="0.08">(n = 103)</text>
<text x="103.765" y="533.35" font-size="3.6850000000000005" text-anchor="start" fill="#2e2e2e" font-weight="normal" textLength="17.07" lengthAdjust="spacingAndGlyphs" stroke="#2e2e2e" stroke-width="0.08">61 – 80 Yrs</text>
<text x="105.245" y="537.4499999999999" font-size="3.8500000000000005" text-anchor="start" fill="#2e2e2e" font-weight="normal" textLength="14.11" lengthAdjust="spacingAndGlyphs" stroke="#2e2e2e" stroke-width="0.08">(n = 361)</text>
<text x="126.435" y="533.35" font-size="3.6850000000000005" text-anchor="start" fill="#2e2e2e" font-weight="normal" textLength="18.93" lengthAdjust="spacingAndGlyphs" stroke="#2e2e2e" stroke-width="0.08">81 – 100 Yrs</text>
<text x="129.82" y="537.4499999999999" font-size="3.8500000000000005" text-anchor="start" fill="#2e2e2e" font-weight="normal" textLength="12.16" lengthAdjust="spacingAndGlyphs" stroke="#2e2e2e" stroke-width="0.08">(n = 20)</text>
<text x="74" y="544.4000000000001" font-size="4.6" text-anchor="start" fill="#222" font-weight="normal" textLength="28" lengthAdjust="spacingAndGlyphs" stroke="#222" stroke-width="0.05">TCGA samples</text>
<line x1="41" y1="505.4" x2="41" y2="511.8" stroke="#b8b8b8" stroke-width="1.0"/>
<line x1="38.0" y1="505.5" x2="44.0" y2="505.5" stroke="#6a6a6a" stroke-width="0.95"/>
<line x1="41" y1="518.7" x2="41" y2="523.3" stroke="#b8b8b8" stroke-width="1.0"/>
<line x1="38.0" y1="523.5" x2="44.0" y2="523.5" stroke="#6a6a6a" stroke-width="0.95"/>
<rect x="35.00" y="511.80" width="12.00" height="6.90" fill="#4a6aea"/>
<line x1="35.0" y1="515.3" x2="47.0" y2="515.3" stroke="rgba(0,0,0,0.66)" stroke-width="1.2"/>
<rect x="58.70" y="522.60" width="12.00" height="1.30" fill="#ff9005"/>
<line x1="58.7" y1="523.2" x2="70.7" y2="523.2" stroke="rgba(0,0,0,0.66)" stroke-width="1.2"/>
<line x1="89" y1="460.4" x2="89" y2="498" stroke="#b8b8b8" stroke-width="1.0"/>
<line x1="86.0" y1="460.5" x2="92.0" y2="460.5" stroke="#6a6a6a" stroke-width="0.95"/>
<line x1="89" y1="521" x2="89" y2="524.4" stroke="#b8b8b8" stroke-width="1.0"/>
<line x1="86.0" y1="524.5" x2="92.0" y2="524.5" stroke="#6a6a6a" stroke-width="0.95"/>
<rect x="83.00" y="498.00" width="12.00" height="23.00" fill="#cc7426"/>
<line x1="83.0" y1="513.6" x2="95.0" y2="513.6" stroke="rgba(0,0,0,0.66)" stroke-width="1.2"/>
<line x1="112.6" y1="478" x2="112.6" y2="507.4" stroke="#b8b8b8" stroke-width="1.0"/>
<line x1="109.6" y1="478.5" x2="115.6" y2="478.5" stroke="#6a6a6a" stroke-width="0.95"/>
<line x1="112.6" y1="520" x2="112.6" y2="526.4" stroke="#b8b8b8" stroke-width="1.0"/>
<line x1="109.6" y1="526.5" x2="115.6" y2="526.5" stroke="#6a6a6a" stroke-width="0.95"/>
<rect x="106.60" y="507.40" width="12.00" height="12.60" fill="#a0d500"/>
<line x1="106.6" y1="515.4" x2="118.6" y2="515.4" stroke="rgba(0,0,0,0.66)" stroke-width="1.2"/>
<line x1="136.8" y1="498.4" x2="136.8" y2="514.4" stroke="#b8b8b8" stroke-width="1.0"/>
<line x1="133.8" y1="498.5" x2="139.8" y2="498.5" stroke="#6a6a6a" stroke-width="0.95"/>
<line x1="136.8" y1="522" x2="136.8" y2="524.8" stroke="#b8b8b8" stroke-width="1.0"/>
<line x1="133.8" y1="524.5" x2="139.8" y2="524.5" stroke="#6a6a6a" stroke-width="0.95"/>
<rect x="130.80" y="514.40" width="12.00" height="7.60" fill="#ff3a0e"/>
<line x1="130.8" y1="518.6" x2="142.8" y2="518.6" stroke="rgba(0,0,0,0.66)" stroke-width="1.2"/>
<text x="166.1" y="450.7" font-size="4.6" text-anchor="start" fill="#222" font-weight="normal" textLength="114.3" lengthAdjust="spacingAndGlyphs" stroke="#222" stroke-width="0.05">Expression of TFAP2E in LUSC based on patient's smoking</text>
<text x="218" y="455.4" font-size="4.6" text-anchor="start" fill="#222" font-weight="normal" textLength="11" lengthAdjust="spacingAndGlyphs" stroke="#222" stroke-width="0.05">habits</text>
<line x1="168.6" y1="461.3" x2="168.6" y2="526.4" stroke="#c8c8c8" stroke-width="0.9"/>
<line x1="168.6" y1="526.4" x2="288" y2="526.4" stroke="#c8c8c8" stroke-width="0.9"/>
<line x1="167.0" y1="526.4" x2="168.6" y2="526.4" stroke="#999" stroke-width="0.6"/>
<text x="165.7" y="527.9" font-size="4.2" text-anchor="end" fill="#4a4a4a" font-weight="normal" stroke="#4a4a4a" stroke-width="0.07">0</text>
<line x1="167.0" y1="513.4399999999999" x2="168.6" y2="513.4399999999999" stroke="#999" stroke-width="0.6"/>
<text x="165.7" y="514.9399999999999" font-size="4.2" text-anchor="end" fill="#4a4a4a" font-weight="normal" stroke="#4a4a4a" stroke-width="0.07">1</text>
<line x1="167.0" y1="500.48" x2="168.6" y2="500.48" stroke="#999" stroke-width="0.6"/>
<text x="165.7" y="501.98" font-size="4.2" text-anchor="end" fill="#4a4a4a" font-weight="normal" stroke="#4a4a4a" stroke-width="0.07">2</text>
<line x1="167.0" y1="487.52" x2="168.6" y2="487.52" stroke="#999" stroke-width="0.6"/>
<text x="165.7" y="489.02" font-size="4.2" text-anchor="end" fill="#4a4a4a" font-weight="normal" stroke="#4a4a4a" stroke-width="0.07">3</text>
<line x1="167.0" y1="474.56" x2="168.6" y2="474.56" stroke="#999" stroke-width="0.6"/>
<text x="165.7" y="476.06" font-size="4.2" text-anchor="end" fill="#4a4a4a" font-weight="normal" stroke="#4a4a4a" stroke-width="0.07">4</text>
<line x1="167.0" y1="461.6" x2="168.6" y2="461.6" stroke="#999" stroke-width="0.6"/>
<text x="165.7" y="463.1" font-size="4.2" text-anchor="end" fill="#4a4a4a" font-weight="normal" stroke="#4a4a4a" stroke-width="0.07">5</text>
<text x="0" y="0" font-size="4.6" text-anchor="middle" fill="#222" stroke="#222" stroke-width="0.12" transform="translate(160.0,494.8) rotate(-90)" textLength="42.5" lengthAdjust="spacingAndGlyphs">Transcript per million</text>
<text x="176.56" y="532.35" font-size="4.125" text-anchor="start" fill="#2e2e2e" font-weight="normal" textLength="12.08" lengthAdjust="spacingAndGlyphs" stroke="#2e2e2e" stroke-width="0.08">Normal</text>
<text x="176.51999999999998" y="537.15" font-size="3.8500000000000005" text-anchor="start" fill="#2e2e2e" font-weight="normal" textLength="12.16" lengthAdjust="spacingAndGlyphs" stroke="#2e2e2e" stroke-width="0.08">(n = 52)</text>
<text x="195.395" y="532.35" font-size="4.125" text-anchor="start" fill="#2e2e2e" font-weight="normal" textLength="20.21" lengthAdjust="spacingAndGlyphs" stroke="#2e2e2e" stroke-width="0.08">Non smoker</text>
<text x="199.42" y="537.15" font-size="3.8500000000000005" text-anchor="start" fill="#2e2e2e" font-weight="normal" textLength="12.16" lengthAdjust="spacingAndGlyphs" stroke="#2e2e2e" stroke-width="0.08">(n = 18)</text>
<text x="221.54" y="532.35" font-size="4.125" text-anchor="start" fill="#2e2e2e" font-weight="normal" textLength="12.92" lengthAdjust="spacingAndGlyphs" stroke="#2e2e2e" stroke-width="0.08">Smoker</text>
<text x="220.945" y="537.15" font-size="3.8500000000000005" text-anchor="start" fill="#2e2e2e" font-weight="normal" textLength="14.11" lengthAdjust="spacingAndGlyphs" stroke="#2e2e2e" stroke-width="0.08">(n = 133)</text>
<text x="238.085" y="531.65" font-size="3.575" text-anchor="start" fill="#2e2e2e" font-weight="normal" textLength="25.83" lengthAdjust="spacingAndGlyphs" stroke="#2e2e2e" stroke-width="0.08">Reformed smoker</text>
<text x="243.37" y="536.05" font-size="3.3000000000000003" text-anchor="start" fill="#2e2e2e" font-weight="normal" textLength="15.26" lengthAdjust="spacingAndGlyphs" stroke="#2e2e2e" stroke-width="0.08">(&lt;15 years)</text>
<text x="244.92" y="540.85" font-size="3.8500000000000005" text-anchor="start" fill="#2e2e2e" font-weight="normal" textLength="12.16" lengthAdjust="spacingAndGlyphs" stroke="#2e2e2e" stroke-width="0.08">(n = 83)</text>
<text x="265.085" y="531.65" font-size="3.575" text-anchor="start" fill="#2e2e2e" font-weight="normal" textLength="25.83" lengthAdjust="spacingAndGlyphs" stroke="#2e2e2e" stroke-width="0.08">Reformed smoker</text>
<text x="270.37" y="536.05" font-size="3.3000000000000003" text-anchor="start" fill="#2e2e2e" font-weight="normal" textLength="15.26" lengthAdjust="spacingAndGlyphs" stroke="#2e2e2e" stroke-width="0.08">(&gt;15 years)</text>
<text x="270.945" y="540.85" font-size="3.8500000000000005" text-anchor="start" fill="#2e2e2e" font-weight="normal" textLength="14.11" lengthAdjust="spacingAndGlyphs" stroke="#2e2e2e" stroke-width="0.08">(n = 267)</text>
<text x="214.3" y="545.9000000000001" font-size="4.6" text-anchor="start" fill="#222" font-weight="normal" textLength="28" lengthAdjust="spacingAndGlyphs" stroke="#222" stroke-width="0.05">TCGA samples</text>
<line x1="180.8" y1="508" x2="180.8" y2="513.4" stroke="#b8b8b8" stroke-width="1.0"/>
<line x1="177.8" y1="508.5" x2="183.8" y2="508.5" stroke="#6a6a6a" stroke-width="0.95"/>
<line x1="180.8" y1="519.6" x2="180.8" y2="524" stroke="#b8b8b8" stroke-width="1.0"/>
<line x1="177.8" y1="524.5" x2="183.8" y2="524.5" stroke="#6a6a6a" stroke-width="0.95"/>
<rect x="174.80" y="513.40" width="12.00" height="6.20" fill="#4a6aea"/>
<line x1="174.8" y1="516.2" x2="186.8" y2="516.2" stroke="rgba(0,0,0,0.66)" stroke-width="1.2"/>
<line x1="205" y1="467.6" x2="205" y2="501.6" stroke="#b8b8b8" stroke-width="1.0"/>
<line x1="202.0" y1="467.5" x2="208.0" y2="467.5" stroke="#6a6a6a" stroke-width="0.95"/>
<line x1="205" y1="522.4" x2="205" y2="525.6" stroke="#b8b8b8" stroke-width="1.0"/>
<line x1="202.0" y1="525.5" x2="208.0" y2="525.5" stroke="#6a6a6a" stroke-width="0.95"/>
<rect x="199.00" y="501.60" width="12.00" height="20.80" fill="#ff9005"/>
<line x1="199.0" y1="519.4" x2="211.0" y2="519.4" stroke="rgba(0,0,0,0.66)" stroke-width="1.2"/>
<line x1="229" y1="473.4" x2="229" y2="504" stroke="#b8b8b8" stroke-width="1.0"/>
<line x1="226.0" y1="473.5" x2="232.0" y2="473.5" stroke="#6a6a6a" stroke-width="0.95"/>
<line x1="229" y1="521" x2="229" y2="524.6" stroke="#b8b8b8" stroke-width="1.0"/>
<line x1="226.0" y1="524.5" x2="232.0" y2="524.5" stroke="#6a6a6a" stroke-width="0.95"/>
<rect x="223.00" y="504.00" width="12.00" height="17.00" fill="#a0d500"/>
<line x1="223.0" y1="515.4" x2="235.0" y2="515.4" stroke="rgba(0,0,0,0.66)" stroke-width="1.2"/>
<line x1="252.8" y1="498.4" x2="252.8" y2="511.6" stroke="#b8b8b8" stroke-width="1.0"/>
<line x1="249.8" y1="498.5" x2="255.8" y2="498.5" stroke="#6a6a6a" stroke-width="0.95"/>
<line x1="252.8" y1="521.6" x2="252.8" y2="526.4" stroke="#b8b8b8" stroke-width="1.0"/>
<line x1="249.8" y1="526.5" x2="255.8" y2="526.5" stroke="#6a6a6a" stroke-width="0.95"/>
<rect x="246.80" y="511.60" width="12.00" height="10.00" fill="#cc7426"/>
<line x1="246.8" y1="518.4" x2="258.8" y2="518.4" stroke="rgba(0,0,0,0.66)" stroke-width="1.2"/>
<line x1="276.5" y1="481" x2="276.5" y2="510.6" stroke="#b8b8b8" stroke-width="1.0"/>
<line x1="273.5" y1="481.5" x2="279.5" y2="481.5" stroke="#6a6a6a" stroke-width="0.95"/>
<line x1="276.5" y1="521.6" x2="276.5" y2="526.4" stroke="#b8b8b8" stroke-width="1.0"/>
<line x1="273.5" y1="526.5" x2="279.5" y2="526.5" stroke="#6a6a6a" stroke-width="0.95"/>
<rect x="270.50" y="510.60" width="12.00" height="11.00" fill="#ff16d0"/>
<line x1="270.5" y1="516.6" x2="282.5" y2="516.6" stroke="rgba(0,0,0,0.66)" stroke-width="1.2"/>
<text x="302.5" y="449.2" font-size="4.6" text-anchor="start" fill="#222" font-weight="normal" textLength="121.2" lengthAdjust="spacingAndGlyphs" stroke="#222" stroke-width="0.05">Expression of TFAP2E in LUSC based on TP53 mutation status</text>
<line x1="307.3" y1="455.59999999999997" x2="307.3" y2="528.3" stroke="#c8c8c8" stroke-width="0.9"/>
<line x1="307.3" y1="528.3" x2="428" y2="528.3" stroke="#c8c8c8" stroke-width="0.9"/>
<line x1="305.7" y1="528.3" x2="307.3" y2="528.3" stroke="#999" stroke-width="0.6"/>
<text x="304.40000000000003" y="529.8" font-size="4.2" text-anchor="end" fill="#4a4a4a" font-weight="normal" stroke="#4a4a4a" stroke-width="0.07">0</text>
<line x1="305.7" y1="510.19999999999993" x2="307.3" y2="510.19999999999993" stroke="#999" stroke-width="0.6"/>
<text x="304.40000000000003" y="511.69999999999993" font-size="4.2" text-anchor="end" fill="#4a4a4a" font-weight="normal" stroke="#4a4a4a" stroke-width="0.07">1</text>
<line x1="305.7" y1="492.09999999999997" x2="307.3" y2="492.09999999999997" stroke="#999" stroke-width="0.6"/>
<text x="304.40000000000003" y="493.59999999999997" font-size="4.2" text-anchor="end" fill="#4a4a4a" font-weight="normal" stroke="#4a4a4a" stroke-width="0.07">2</text>
<line x1="305.7" y1="474.0" x2="307.3" y2="474.0" stroke="#999" stroke-width="0.6"/>
<text x="304.40000000000003" y="475.5" font-size="4.2" text-anchor="end" fill="#4a4a4a" font-weight="normal" stroke="#4a4a4a" stroke-width="0.07">3</text>
<line x1="305.7" y1="455.9" x2="307.3" y2="455.9" stroke="#999" stroke-width="0.6"/>
<text x="304.40000000000003" y="457.4" font-size="4.2" text-anchor="end" fill="#4a4a4a" font-weight="normal" stroke="#4a4a4a" stroke-width="0.07">4</text>
<text x="0" y="0" font-size="4.6" text-anchor="middle" fill="#222" stroke="#222" stroke-width="0.12" transform="translate(298.90000000000003,492.5) rotate(-90)" textLength="41.8" lengthAdjust="spacingAndGlyphs">Transcript per million</text>
<text x="321.54999999999995" y="533.65" font-size="4.125" text-anchor="start" fill="#2e2e2e" font-weight="normal" textLength="12.7" lengthAdjust="spacingAndGlyphs" stroke="#2e2e2e" stroke-width="0.08">Normal</text>
<text x="321.82" y="538.25" font-size="3.8500000000000005" text-anchor="start" fill="#2e2e2e" font-weight="normal" textLength="12.16" lengthAdjust="spacingAndGlyphs" stroke="#2e2e2e" stroke-width="0.08">(n = 52)</text>
<text x="355.5" y="533.65" font-size="3.63" text-anchor="start" fill="#2e2e2e" font-weight="normal" textLength="23" lengthAdjust="spacingAndGlyphs" stroke="#2e2e2e" stroke-width="0.08">TP53-Mutant</text>
<text x="359.945" y="538.25" font-size="3.8500000000000005" text-anchor="start" fill="#2e2e2e" font-weight="normal" textLength="14.11" lengthAdjust="spacingAndGlyphs" stroke="#2e2e2e" stroke-width="0.08">(n = 369)</text>
<text x="391.45" y="533.65" font-size="3.63" text-anchor="start" fill="#2e2e2e" font-weight="normal" textLength="29.5" lengthAdjust="spacingAndGlyphs" stroke="#2e2e2e" stroke-width="0.08">TP53-NonMutant</text>
<text x="399.275" y="538.25" font-size="3.8500000000000005" text-anchor="start" fill="#2e2e2e" font-weight="normal" textLength="13.85" lengthAdjust="spacingAndGlyphs" stroke="#2e2e2e" stroke-width="0.08">(n = 118)</text>
<text x="352.6" y="546.1" font-size="4.6" text-anchor="start" fill="#222" font-weight="normal" textLength="28" lengthAdjust="spacingAndGlyphs" stroke="#222" stroke-width="0.05">TCGA samples</text>
<line x1="327.7" y1="502.4" x2="327.7" y2="510" stroke="#b8b8b8" stroke-width="1.0"/>
<line x1="322.825" y1="502.5" x2="332.575" y2="502.5" stroke="#6a6a6a" stroke-width="0.95"/>
<line x1="327.7" y1="518.6" x2="327.7" y2="524.4" stroke="#b8b8b8" stroke-width="1.0"/>
<line x1="322.825" y1="524.5" x2="332.575" y2="524.5" stroke="#6a6a6a" stroke-width="0.95"/>
<rect x="317.95" y="510.00" width="19.50" height="8.60" fill="#4a6aea"/>
<line x1="317.95" y1="514.2" x2="337.45" y2="514.2" stroke="rgba(0,0,0,0.66)" stroke-width="1.2"/>
<line x1="367.8" y1="459.4" x2="367.8" y2="501.6" stroke="#b8b8b8" stroke-width="1.0"/>
<line x1="362.925" y1="459.5" x2="372.675" y2="459.5" stroke="#6a6a6a" stroke-width="0.95"/>
<line x1="367.8" y1="521" x2="367.8" y2="527.6" stroke="#b8b8b8" stroke-width="1.0"/>
<line x1="362.925" y1="527.5" x2="372.675" y2="527.5" stroke="#6a6a6a" stroke-width="0.95"/>
<rect x="358.05" y="501.60" width="19.50" height="19.40" fill="#ff3a0e"/>
<line x1="358.05" y1="514.3" x2="377.55" y2="514.3" stroke="rgba(0,0,0,0.66)" stroke-width="1.2"/>
<line x1="407.8" y1="464" x2="407.8" y2="504" stroke="#b8b8b8" stroke-width="1.0"/>
<line x1="402.925" y1="464.5" x2="412.675" y2="464.5" stroke="#6a6a6a" stroke-width="0.95"/>
<line x1="407.8" y1="520" x2="407.8" y2="528" stroke="#b8b8b8" stroke-width="1.0"/>
<line x1="402.925" y1="528.5" x2="412.675" y2="528.5" stroke="#6a6a6a" stroke-width="0.95"/>
<rect x="398.05" y="504.00" width="19.50" height="16.00" fill="#ff9005"/>
<line x1="398.05" y1="514" x2="417.55" y2="514" stroke="rgba(0,0,0,0.66)" stroke-width="1.2"/>
</svg>
</body></html>
